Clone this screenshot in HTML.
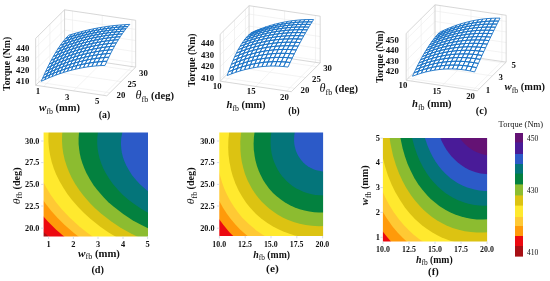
<!DOCTYPE html>
<html><head><meta charset="utf-8"><title>Figure</title>
<style>html,body{margin:0;padding:0;background:#fff}svg{display:block}text{font-family:"Liberation Serif","DejaVu Serif",serif;fill:#111}</style>
</head><body>
<svg width="550" height="281" viewBox="0 0 550 281">
<rect width="550" height="281" fill="#fff"/>
<g id="contours" shape-rendering="geometricPrecision">
<clipPath id="cp_d"><rect x="43.60" y="132.50" width="104.40" height="104.10"/></clipPath><g clip-path="url(#cp_d)" opacity="0.999">
<rect x="41.60" y="130.50" width="108.40" height="108.10" fill="#a70f14"/>
<path d="M42.8 130.5 L150.0 130.5 L150.0 238.6 L50.8 238.6 L42.8 231.2 L41.6 230.0 L41.6 130.5 L42.8 130.5Z" fill="#ec0910"/>
<path d="M42.8 130.5 L150.0 130.5 L150.0 238.6 L66.5 238.6 L56.2 229.7 L47.7 221.3 L41.6 214.5 L41.6 130.5 L42.8 130.5Z" fill="#ff9a0a"/>
<path d="M42.8 130.5 L150.0 130.5 L150.0 238.6 L81.1 238.6 L73.3 232.5 L64.7 225.0 L57.4 217.8 L51.1 210.7 L45.3 203.3 L41.6 198.1 L41.6 130.5 L42.8 130.5Z" fill="#ffc934"/>
<path d="M42.8 130.5 L150.0 130.5 L150.0 238.6 L95.5 238.6 L86.7 232.3 L79.4 226.4 L69.6 217.6 L62.0 209.4 L56.0 202.2 L50.8 194.9 L46.3 187.6 L42.4 180.3 L41.6 178.5 L41.6 130.5 L42.8 130.5Z" fill="#ffe92e"/>
<path d="M48.9 130.5 L150.0 130.5 L150.0 238.6 L118.9 238.6 L108.6 232.4 L100.0 226.5 L90.3 218.8 L84.0 213.1 L78.1 207.0 L71.8 199.7 L67.2 193.7 L63.2 187.6 L59.7 181.5 L56.1 174.2 L53.7 168.2 L51.7 162.1 L50.0 154.8 L48.9 147.5 L48.4 141.4 L48.4 135.4 L48.7 130.5 L48.9 130.5Z" fill="#dcc312"/>
<path d="M63.5 130.5 L150.0 130.5 L150.0 238.6 L141.4 238.6 L130.5 233.3 L120.6 227.7 L111.0 221.3 L101.3 213.7 L95.1 208.2 L90.3 203.4 L83.8 196.1 L79.2 190.0 L75.2 183.9 L71.8 177.9 L68.9 171.8 L66.6 165.7 L64.7 159.7 L63.3 153.6 L62.4 147.5 L62.0 141.4 L62.1 135.4 L62.5 130.5 L63.5 130.5Z" fill="#8cbc30"/>
<path d="M79.4 130.5 L150.0 130.5 L150.0 229.2 L141.5 225.1 L132.9 220.4 L123.2 214.1 L113.5 206.6 L108.4 202.2 L103.6 197.3 L97.3 190.0 L93.6 185.2 L89.7 179.1 L86.4 173.0 L84.2 168.1 L82.4 163.3 L80.9 158.4 L79.8 153.6 L79.1 148.7 L78.6 143.9 L78.6 139.0 L78.9 134.1 L79.3 130.5 L79.4 130.5Z" fill="#03813f"/>
<path d="M98.8 130.5 L150.0 130.5 L150.0 213.9 L141.5 209.1 L134.2 204.1 L128.1 199.4 L122.9 194.9 L118.1 190.0 L112.9 183.9 L109.4 179.1 L105.7 173.0 L103.2 168.2 L101.2 163.3 L99.6 158.4 L98.4 153.6 L97.6 148.7 L97.2 143.9 L97.2 139.0 L97.7 134.1 L98.3 130.5 L98.8 130.5Z" fill="#04757a"/>
<path d="M123.2 130.5 L150.0 130.5 L150.0 192.7 L145.0 188.8 L139.7 183.9 L136.3 180.3 L132.3 175.4 L129.1 170.6 L126.4 165.7 L124.3 160.9 L123.0 157.2 L121.8 152.4 L121.3 148.7 L121.0 145.1 L121.0 141.4 L121.3 137.8 L122.2 132.9 L122.8 130.5 L123.2 130.5Z" fill="#2c5ac8"/>
</g>
<clipPath id="cp_e"><rect x="219.30" y="132.40" width="103.80" height="103.50"/></clipPath><g clip-path="url(#cp_e)" opacity="0.999">
<rect x="217.30" y="130.40" width="107.80" height="107.50" fill="#ec0910"/>
<path d="M218.5 130.4 L325.1 130.4 L325.1 237.9 L235.1 237.9 L229.2 231.9 L223.1 224.6 L217.9 217.4 L217.3 216.5 L217.3 130.4 L218.5 130.4Z" fill="#ff9a0a"/>
<path d="M218.5 130.4 L325.1 130.4 L325.1 237.9 L249.9 237.9 L245.2 234.1 L240.1 229.4 L235.4 224.6 L230.4 218.6 L226.9 213.7 L223.0 207.7 L219.7 201.7 L217.3 196.7 L217.3 130.4 L218.5 130.4Z" fill="#ffc934"/>
<path d="M218.5 130.4 L325.1 130.4 L325.1 237.9 L268.0 237.9 L261.9 234.3 L256.1 230.2 L248.8 224.1 L242.1 217.4 L237.9 212.2 L233.8 206.5 L230.1 200.5 L226.9 194.4 L224.2 188.4 L222.0 182.3 L219.6 173.9 L218.1 166.6 L217.3 160.6 L217.3 134.7 L217.9 130.4 L218.5 130.4Z" fill="#ffe92e"/>
<path d="M229.4 130.9 L229.5 130.4 L325.1 130.4 L325.1 237.9 L308.7 237.9 L302.1 237.0 L294.8 235.4 L288.8 233.6 L282.7 231.3 L277.9 229.1 L273.0 226.6 L267.0 222.8 L260.9 218.3 L257.1 215.0 L253.4 211.3 L250.0 207.6 L246.3 202.9 L242.2 196.8 L238.7 190.8 L235.4 183.5 L232.8 176.3 L231.1 170.3 L229.4 161.8 L228.5 154.6 L228.2 147.3 L228.4 140.1 L229.1 132.8 L229.4 130.9Z" fill="#dcc312"/>
<path d="M241.5 130.4 L325.1 130.4 L325.1 226.0 L319.0 226.2 L311.8 225.8 L305.7 225.0 L299.7 223.7 L293.6 222.0 L287.6 219.7 L282.7 217.4 L277.9 214.7 L274.2 212.3 L269.4 208.7 L265.5 205.3 L261.8 201.7 L258.5 197.9 L255.8 194.4 L252.4 189.4 L249.8 184.8 L247.4 179.9 L245.0 173.9 L243.2 167.8 L241.8 161.8 L240.9 155.8 L240.4 149.7 L240.3 141.3 L240.9 134.0 L241.5 130.4 L241.5 130.4Z" fill="#8cbc30"/>
<path d="M254.8 130.4 L325.1 130.4 L325.1 212.5 L319.0 212.6 L314.2 212.3 L309.4 211.6 L304.5 210.6 L299.7 209.3 L294.8 207.5 L290.0 205.3 L285.1 202.6 L281.5 200.1 L276.7 196.3 L273.0 192.9 L269.0 188.4 L265.4 183.5 L263.1 179.9 L260.6 175.1 L258.5 170.3 L256.8 165.4 L255.5 160.6 L254.6 155.8 L253.8 149.7 L253.6 143.7 L253.9 137.6 L254.6 131.6 L254.8 130.4 L254.8 130.4Z" fill="#03813f"/>
<path d="M271.8 130.4 L325.1 130.4 L325.1 195.4 L320.3 195.3 L315.4 194.9 L311.8 194.3 L306.9 193.0 L303.3 191.7 L299.7 190.1 L296.0 188.2 L292.4 185.9 L288.8 183.0 L286.3 180.8 L282.2 176.3 L280.3 173.7 L277.9 169.9 L276.1 166.6 L274.0 161.8 L272.8 158.2 L271.6 153.3 L270.9 148.5 L270.6 143.7 L270.6 138.9 L271.1 134.0 L271.6 130.4 L271.8 130.4Z" fill="#04757a"/>
<path d="M296.0 130.4 L325.1 130.4 L325.1 171.5 L322.7 171.4 L320.3 171.1 L317.8 170.6 L315.4 169.9 L313.0 169.0 L310.5 167.8 L308.1 166.4 L305.2 164.2 L303.3 162.5 L301.6 160.6 L299.7 158.1 L298.2 155.8 L297.0 153.3 L296.0 150.9 L295.3 148.5 L294.7 146.1 L294.3 143.7 L294.1 141.3 L294.1 138.9 L294.3 135.2 L294.9 131.6 L295.2 130.4 L296.0 130.4Z" fill="#2c5ac8"/>
</g>
<clipPath id="cp_f"><rect x="382.90" y="138.10" width="104.20" height="103.50"/></clipPath><g clip-path="url(#cp_f)" opacity="0.999">
<rect x="380.90" y="136.10" width="108.20" height="107.50" fill="#ec0910"/>
<path d="M382.1 136.1 L489.1 136.1 L489.1 243.6 L392.6 243.6 L385.5 235.1 L380.9 228.9 L380.9 136.1 L382.1 136.1Z" fill="#ff9a0a"/>
<path d="M382.1 136.1 L489.1 136.1 L489.1 243.6 L408.9 243.6 L402.4 237.6 L397.8 232.7 L392.7 226.7 L386.7 218.2 L381.6 209.8 L380.9 208.5 L380.9 136.1 L382.1 136.1Z" fill="#ffc934"/>
<path d="M382.1 136.1 L489.1 136.1 L489.1 243.6 L425.9 243.6 L419.8 239.5 L413.7 234.7 L408.9 230.3 L404.0 225.3 L399.1 219.4 L393.8 212.2 L389.3 204.9 L385.4 197.7 L381.5 189.2 L380.9 187.8 L380.9 136.1 L382.1 136.1Z" fill="#ffe92e"/>
<path d="M382.1 136.1 L489.1 136.1 L489.1 243.6 L461.1 243.6 L455.1 242.2 L449.0 240.3 L441.7 237.4 L436.8 235.1 L432.0 232.3 L427.1 229.1 L422.2 225.4 L414.9 218.9 L409.8 213.4 L404.9 207.4 L400.0 200.1 L395.1 191.7 L391.6 184.4 L388.1 176.0 L385.0 166.3 L381.9 154.2 L380.9 148.8 L380.9 136.1 L382.1 136.1Z" fill="#dcc312"/>
<path d="M389.4 136.1 L489.1 136.1 L489.1 232.2 L483.0 232.6 L476.9 232.5 L470.9 232.1 L464.8 231.2 L458.7 229.8 L452.6 227.9 L446.5 225.4 L441.7 223.0 L436.8 220.2 L432.0 216.9 L427.1 213.1 L423.4 209.8 L419.8 206.1 L414.6 200.1 L411.0 195.3 L406.3 188.0 L402.4 180.8 L399.1 173.5 L395.9 165.1 L393.0 155.4 L390.4 143.3 L389.4 136.1 L389.4 136.1Z" fill="#8cbc30"/>
<path d="M400.4 136.1 L489.1 136.1 L489.1 219.3 L483.0 219.6 L476.9 219.4 L470.9 218.7 L466.0 217.8 L461.1 216.5 L455.1 214.4 L450.0 212.2 L445.3 209.8 L439.3 205.9 L434.4 202.1 L430.7 198.9 L427.1 195.2 L422.0 189.2 L418.4 184.4 L414.6 178.4 L410.8 171.1 L407.6 163.9 L405.0 156.6 L402.6 148.2 L400.3 137.3 L400.1 136.1 L400.4 136.1Z" fill="#03813f"/>
<path d="M412.5 136.1 L489.1 136.1 L489.1 205.6 L484.2 205.7 L479.4 205.5 L474.5 204.9 L468.4 203.7 L463.6 202.3 L457.5 199.9 L452.6 197.5 L448.9 195.3 L445.3 192.9 L441.7 190.1 L438.0 186.8 L434.4 183.1 L430.4 178.4 L426.9 173.5 L423.2 167.5 L419.5 160.3 L417.0 154.2 L414.5 147.0 L412.2 138.5 L411.7 136.1 L412.5 136.1Z" fill="#04757a"/>
<path d="M424.7 136.1 L489.1 136.1 L489.1 190.9 L484.2 190.9 L479.4 190.4 L474.5 189.6 L470.9 188.6 L467.2 187.5 L462.4 185.5 L457.5 182.9 L453.8 180.6 L450.2 177.9 L447.8 175.8 L445.3 173.5 L441.7 169.7 L438.9 166.3 L435.5 161.5 L432.6 156.6 L430.2 151.8 L427.6 145.8 L425.5 139.7 L424.4 136.1 L424.7 136.1Z" fill="#2c5ac8"/>
<path d="M440.5 136.1 L489.1 136.1 L489.1 174.3 L485.5 174.1 L480.6 173.4 L475.7 172.2 L472.1 170.9 L468.4 169.4 L464.8 167.4 L461.1 165.1 L457.5 162.2 L455.1 160.0 L451.4 156.2 L448.8 153.0 L446.3 149.4 L444.1 145.8 L441.6 140.9 L439.6 136.1 L440.5 136.1Z" fill="#491b98"/>
<path d="M458.7 136.1 L489.1 136.1 L489.1 155.6 L485.5 155.0 L481.8 154.1 L478.2 152.8 L475.7 151.7 L473.3 150.4 L470.9 148.9 L468.2 147.0 L464.8 143.9 L462.0 140.9 L459.9 138.3 L458.4 136.1 L458.7 136.1Z" fill="#641274"/>
</g>
</g>
<g id="p3d" fill="none">
<line x1="43.70" y1="86.47" x2="72.57" y2="57.80" stroke="#ebebeb" stroke-width="0.60"/>
<line x1="72.57" y1="57.80" x2="72.56" y2="10.98" stroke="#ebebeb" stroke-width="0.60"/>
<line x1="73.43" y1="90.86" x2="102.27" y2="62.19" stroke="#ebebeb" stroke-width="0.60"/>
<line x1="102.27" y1="62.19" x2="102.27" y2="15.36" stroke="#ebebeb" stroke-width="0.60"/>
<line x1="103.17" y1="95.26" x2="131.98" y2="66.57" stroke="#ebebeb" stroke-width="0.60"/>
<line x1="131.98" y1="66.57" x2="131.99" y2="19.74" stroke="#ebebeb" stroke-width="0.60"/>
<line x1="38.74" y1="82.25" x2="109.90" y2="92.77" stroke="#ebebeb" stroke-width="0.60"/>
<line x1="38.74" y1="82.25" x2="38.72" y2="35.39" stroke="#ebebeb" stroke-width="0.60"/>
<line x1="49.93" y1="71.14" x2="121.07" y2="81.65" stroke="#ebebeb" stroke-width="0.60"/>
<line x1="49.93" y1="71.14" x2="49.92" y2="24.30" stroke="#ebebeb" stroke-width="0.60"/>
<line x1="61.12" y1="60.04" x2="132.23" y2="70.53" stroke="#ebebeb" stroke-width="0.60"/>
<line x1="61.12" y1="60.04" x2="61.11" y2="13.21" stroke="#ebebeb" stroke-width="0.60"/>
<line x1="35.68" y1="81.04" x2="64.56" y2="52.39" stroke="#ebebeb" stroke-width="0.60"/>
<line x1="64.56" y1="52.39" x2="135.67" y2="62.88" stroke="#ebebeb" stroke-width="0.60"/>
<line x1="35.68" y1="69.86" x2="64.56" y2="41.22" stroke="#ebebeb" stroke-width="0.60"/>
<line x1="64.56" y1="41.22" x2="135.67" y2="51.71" stroke="#ebebeb" stroke-width="0.60"/>
<line x1="35.67" y1="58.68" x2="64.56" y2="30.05" stroke="#ebebeb" stroke-width="0.60"/>
<line x1="64.56" y1="30.05" x2="135.67" y2="40.53" stroke="#ebebeb" stroke-width="0.60"/>
<line x1="35.67" y1="47.50" x2="64.56" y2="18.87" stroke="#ebebeb" stroke-width="0.60"/>
<line x1="64.56" y1="18.87" x2="135.68" y2="29.36" stroke="#ebebeb" stroke-width="0.60"/>
<line x1="35.68" y1="85.28" x2="35.66" y2="38.42" stroke="#cdcdcd" stroke-width="0.80"/>
<line x1="35.66" y1="38.42" x2="64.55" y2="9.80" stroke="#cdcdcd" stroke-width="0.80"/>
<line x1="64.55" y1="9.80" x2="135.68" y2="20.28" stroke="#cdcdcd" stroke-width="0.80"/>
<line x1="135.68" y1="20.28" x2="135.66" y2="67.12" stroke="#cdcdcd" stroke-width="0.80"/>
<line x1="135.66" y1="67.12" x2="106.85" y2="95.80" stroke="#cdcdcd" stroke-width="0.80"/>
<line x1="106.85" y1="95.80" x2="35.68" y2="85.28" stroke="#cdcdcd" stroke-width="0.80"/>
<line x1="64.56" y1="56.62" x2="64.55" y2="9.80" stroke="#cdcdcd" stroke-width="0.80"/>
<line x1="64.56" y1="56.62" x2="35.68" y2="85.28" stroke="#cdcdcd" stroke-width="0.80"/>
<line x1="64.56" y1="56.62" x2="135.66" y2="67.12" stroke="#cdcdcd" stroke-width="0.80"/>
<path d="M65.72 38.39 L69.28 37.21 L72.10 34.21 L68.60 35.29ZM69.28 37.21 L72.89 36.09 L75.65 33.17 L72.10 34.21ZM72.89 36.09 L76.53 35.01 L79.24 32.18 L75.65 33.17ZM76.53 35.01 L80.22 33.98 L82.87 31.24 L79.24 32.18ZM80.22 33.98 L83.95 33.01 L86.54 30.35 L82.87 31.24ZM83.95 33.01 L87.73 32.10 L90.26 29.50 L86.54 30.35ZM87.73 32.10 L91.55 31.24 L94.02 28.71 L90.26 29.50ZM91.55 31.24 L95.41 30.44 L97.82 27.98 L94.02 28.71ZM95.41 30.44 L99.32 29.71 L101.67 27.31 L97.82 27.98ZM99.32 29.71 L103.27 29.04 L105.56 26.69 L101.67 27.31ZM103.27 29.04 L107.27 28.44 L109.49 26.14 L105.56 26.69ZM107.27 28.44 L111.31 27.91 L113.47 25.65 L109.49 26.14ZM111.31 27.91 L115.39 27.44 L117.49 25.23 L113.47 25.65ZM115.39 27.44 L119.51 27.06 L121.55 24.88 L117.49 25.23ZM119.51 27.06 L123.68 26.74 L125.65 24.60 L121.55 24.88ZM123.68 26.74 L127.89 26.51 L129.80 24.39 L125.65 24.60ZM62.98 41.73 L66.58 40.46 L69.28 37.21 L65.72 38.39ZM66.58 40.46 L70.24 39.23 L72.89 36.09 L69.28 37.21ZM70.24 39.23 L73.93 38.06 L76.53 35.01 L72.89 36.09ZM73.93 38.06 L77.67 36.95 L80.22 33.98 L76.53 35.01ZM77.67 36.95 L81.45 35.90 L83.95 33.01 L80.22 33.98ZM81.45 35.90 L85.28 34.91 L87.73 32.10 L83.95 33.01ZM85.28 34.91 L89.15 33.98 L91.55 31.24 L87.73 32.10ZM89.15 33.98 L93.07 33.11 L95.41 30.44 L91.55 31.24ZM93.07 33.11 L97.03 32.31 L99.32 29.71 L95.41 30.44ZM97.03 32.31 L101.03 31.59 L103.27 29.04 L99.32 29.71ZM101.03 31.59 L105.08 30.93 L107.27 28.44 L103.27 29.04ZM105.08 30.93 L109.17 30.35 L111.31 27.91 L107.27 28.44ZM109.17 30.35 L113.31 29.84 L115.39 27.44 L111.31 27.91ZM113.31 29.84 L117.49 29.41 L119.51 27.06 L115.39 27.44ZM117.49 29.41 L121.72 29.06 L123.68 26.74 L119.51 27.06ZM121.72 29.06 L125.98 28.80 L127.89 26.51 L123.68 26.74ZM60.36 45.26 L64.01 43.89 L66.58 40.46 L62.98 41.73ZM64.01 43.89 L67.70 42.57 L70.24 39.23 L66.58 40.46ZM67.70 42.57 L71.43 41.31 L73.93 38.06 L70.24 39.23ZM71.43 41.31 L75.21 40.11 L77.67 36.95 L73.93 38.06ZM75.21 40.11 L79.04 38.97 L81.45 35.90 L77.67 36.95ZM79.04 38.97 L82.91 37.90 L85.28 34.91 L81.45 35.90ZM82.91 37.90 L86.82 36.89 L89.15 33.98 L85.28 34.91ZM86.82 36.89 L90.78 35.96 L93.07 33.11 L89.15 33.98ZM90.78 35.96 L94.79 35.10 L97.03 32.31 L93.07 33.11ZM94.79 35.10 L98.84 34.31 L101.03 31.59 L97.03 32.31ZM98.84 34.31 L102.93 33.60 L105.08 30.93 L101.03 31.59ZM102.93 33.60 L107.07 32.96 L109.17 30.35 L105.08 30.93ZM107.07 32.96 L111.26 32.41 L113.31 29.84 L109.17 30.35ZM111.26 32.41 L115.48 31.94 L117.49 29.41 L113.31 29.84ZM115.48 31.94 L119.76 31.56 L121.72 29.06 L117.49 29.41ZM119.76 31.56 L124.08 31.26 L125.98 28.80 L121.72 29.06ZM57.87 48.94 L61.55 47.47 L64.01 43.89 L60.36 45.26ZM61.55 47.47 L65.27 46.05 L67.70 42.57 L64.01 43.89ZM65.27 46.05 L69.04 44.70 L71.43 41.31 L67.70 42.57ZM69.04 44.70 L72.85 43.42 L75.21 40.11 L71.43 41.31ZM72.85 43.42 L76.71 42.20 L79.04 38.97 L75.21 40.11ZM76.71 42.20 L80.61 41.05 L82.91 37.90 L79.04 38.97ZM80.61 41.05 L84.56 39.97 L86.82 36.89 L82.91 37.90ZM84.56 39.97 L88.56 38.97 L90.78 35.96 L86.82 36.89ZM88.56 38.97 L92.60 38.04 L94.79 35.10 L90.78 35.96ZM92.60 38.04 L96.69 37.20 L98.84 34.31 L94.79 35.10ZM96.69 37.20 L100.82 36.43 L102.93 33.60 L98.84 34.31ZM100.82 36.43 L105.00 35.75 L107.07 32.96 L102.93 33.60ZM105.00 35.75 L109.22 35.15 L111.26 32.41 L107.07 32.96ZM109.22 35.15 L113.49 34.64 L115.48 31.94 L111.26 32.41ZM113.49 34.64 L117.81 34.22 L119.76 31.56 L115.48 31.94ZM117.81 34.22 L122.17 33.90 L124.08 31.26 L119.76 31.56ZM55.52 52.71 L59.21 51.14 L61.55 47.47 L57.87 48.94ZM59.21 51.14 L62.96 49.64 L65.27 46.05 L61.55 47.47ZM62.96 49.64 L66.75 48.21 L69.04 44.70 L65.27 46.05ZM66.75 48.21 L70.58 46.85 L72.85 43.42 L69.04 44.70ZM70.58 46.85 L74.47 45.55 L76.71 42.20 L72.85 43.42ZM74.47 45.55 L78.40 44.33 L80.61 41.05 L76.71 42.20ZM78.40 44.33 L82.37 43.19 L84.56 39.97 L80.61 41.05ZM82.37 43.19 L86.40 42.12 L88.56 38.97 L84.56 39.97ZM86.40 42.12 L90.47 41.14 L92.60 38.04 L88.56 38.97ZM90.47 41.14 L94.58 40.23 L96.69 37.20 L92.60 38.04ZM94.58 40.23 L98.75 39.42 L100.82 36.43 L96.69 37.20ZM98.75 39.42 L102.96 38.69 L105.00 35.75 L100.82 36.43ZM102.96 38.69 L107.21 38.05 L109.22 35.15 L105.00 35.75ZM107.21 38.05 L111.52 37.51 L113.49 34.64 L109.22 35.15ZM111.52 37.51 L115.87 37.06 L117.81 34.22 L113.49 34.64ZM115.87 37.06 L120.26 36.70 L122.17 33.90 L117.81 34.22ZM53.29 56.52 L57.00 54.88 L59.21 51.14 L55.52 52.71ZM57.00 54.88 L60.75 53.31 L62.96 49.64 L59.21 51.14ZM60.75 53.31 L64.56 51.80 L66.75 48.21 L62.96 49.64ZM64.56 51.80 L68.41 50.36 L70.58 46.85 L66.75 48.21ZM68.41 50.36 L72.31 49.00 L74.47 45.55 L70.58 46.85ZM72.31 49.00 L76.26 47.72 L78.40 44.33 L74.47 45.55ZM76.26 47.72 L80.25 46.52 L82.37 43.19 L78.40 44.33ZM80.25 46.52 L84.30 45.39 L86.40 42.12 L82.37 43.19ZM84.30 45.39 L88.39 44.36 L90.47 41.14 L86.40 42.12ZM88.39 44.36 L92.53 43.41 L94.58 40.23 L90.47 41.14ZM92.53 43.41 L96.71 42.55 L98.75 39.42 L94.58 40.23ZM96.71 42.55 L100.95 41.78 L102.96 38.69 L98.75 39.42ZM100.95 41.78 L105.23 41.11 L107.21 38.05 L102.96 38.69ZM105.23 41.11 L109.55 40.53 L111.52 37.51 L107.21 38.05ZM109.55 40.53 L113.93 40.06 L115.87 37.06 L111.52 37.51ZM113.93 40.06 L118.35 39.69 L120.26 36.70 L115.87 37.06ZM51.19 60.35 L54.90 58.64 L57.00 54.88 L53.29 56.52ZM54.90 58.64 L58.66 57.00 L60.75 53.31 L57.00 54.88ZM58.66 57.00 L62.47 55.43 L64.56 51.80 L60.75 53.31ZM62.47 55.43 L66.33 53.94 L68.41 50.36 L64.56 51.80ZM66.33 53.94 L70.24 52.53 L72.31 49.00 L68.41 50.36ZM70.24 52.53 L74.20 51.19 L76.26 47.72 L72.31 49.00ZM74.20 51.19 L78.20 49.94 L80.25 46.52 L76.26 47.72ZM78.20 49.94 L82.26 48.77 L84.30 45.39 L80.25 46.52ZM82.26 48.77 L86.36 47.69 L88.39 44.36 L84.30 45.39ZM86.36 47.69 L90.51 46.70 L92.53 43.41 L88.39 44.36ZM90.51 46.70 L94.71 45.81 L96.71 42.55 L92.53 43.41ZM94.71 45.81 L98.96 45.01 L100.95 41.78 L96.71 42.55ZM98.96 45.01 L103.26 44.31 L105.23 41.11 L100.95 41.78ZM103.26 44.31 L107.61 43.72 L109.55 40.53 L105.23 41.11ZM107.61 43.72 L112.00 43.23 L113.93 40.06 L109.55 40.53ZM112.00 43.23 L116.45 42.84 L118.35 39.69 L113.93 40.06ZM49.22 64.13 L52.92 62.38 L54.90 58.64 L51.19 60.35ZM52.92 62.38 L56.68 60.69 L58.66 57.00 L54.90 58.64ZM56.68 60.69 L60.49 59.08 L62.47 55.43 L58.66 57.00ZM60.49 59.08 L64.35 57.55 L66.33 53.94 L62.47 55.43ZM64.35 57.55 L68.26 56.09 L70.24 52.53 L66.33 53.94ZM68.26 56.09 L72.21 54.72 L74.20 51.19 L70.24 52.53ZM72.21 54.72 L76.22 53.43 L78.20 49.94 L74.20 51.19ZM76.22 53.43 L80.28 52.23 L82.26 48.77 L78.20 49.94ZM80.28 52.23 L84.39 51.12 L86.36 47.69 L82.26 48.77ZM84.39 51.12 L88.55 50.11 L90.51 46.70 L86.36 47.69ZM88.55 50.11 L92.75 49.19 L94.71 45.81 L90.51 46.70ZM92.75 49.19 L97.01 48.38 L98.96 45.01 L94.71 45.81ZM97.01 48.38 L101.32 47.66 L103.26 44.31 L98.96 45.01ZM101.32 47.66 L105.68 47.05 L107.61 43.72 L103.26 44.31ZM105.68 47.05 L110.08 46.56 L112.00 43.23 L107.61 43.72ZM110.08 46.56 L114.54 46.17 L116.45 42.84 L112.00 43.23ZM47.37 67.84 L51.07 66.06 L52.92 62.38 L49.22 64.13ZM51.07 66.06 L54.81 64.35 L56.68 60.69 L52.92 62.38ZM54.81 64.35 L58.61 62.72 L60.49 59.08 L56.68 60.69ZM58.61 62.72 L62.46 61.16 L64.35 57.55 L60.49 59.08ZM62.46 61.16 L66.36 59.68 L68.26 56.09 L64.35 57.55ZM66.36 59.68 L70.31 58.29 L72.21 54.72 L68.26 56.09ZM70.31 58.29 L74.31 56.98 L76.22 53.43 L72.21 54.72ZM74.31 56.98 L78.36 55.76 L80.28 52.23 L76.22 53.43ZM78.36 55.76 L82.47 54.64 L84.39 51.12 L80.28 52.23ZM82.47 54.64 L86.62 53.61 L88.55 50.11 L84.39 51.12ZM86.62 53.61 L90.83 52.69 L92.75 49.19 L88.55 50.11ZM90.83 52.69 L95.09 51.86 L97.01 48.38 L92.75 49.19ZM95.09 51.86 L99.40 51.15 L101.32 47.66 L97.01 48.38ZM99.40 51.15 L103.76 50.54 L105.68 47.05 L101.32 47.66ZM103.76 50.54 L108.17 50.05 L110.08 46.56 L105.68 47.05ZM108.17 50.05 L112.63 49.67 L114.54 46.17 L110.08 46.56ZM45.66 71.44 L49.33 69.66 L51.07 66.06 L47.37 67.84ZM49.33 69.66 L53.06 67.95 L54.81 64.35 L51.07 66.06ZM53.06 67.95 L56.83 66.31 L58.61 62.72 L54.81 64.35ZM56.83 66.31 L60.66 64.75 L62.46 61.16 L58.61 62.72ZM60.66 64.75 L64.55 63.27 L66.36 59.68 L62.46 61.16ZM64.55 63.27 L68.48 61.87 L70.31 58.29 L66.36 59.68ZM68.48 61.87 L72.47 60.56 L74.31 56.98 L70.31 58.29ZM72.47 60.56 L76.51 59.34 L78.36 55.76 L74.31 56.98ZM76.51 59.34 L80.60 58.22 L82.47 54.64 L78.36 55.76ZM80.60 58.22 L84.75 57.20 L86.62 53.61 L82.47 54.64ZM84.75 57.20 L88.95 56.28 L90.83 52.69 L86.62 53.61ZM88.95 56.28 L93.20 55.46 L95.09 51.86 L90.83 52.69ZM93.20 55.46 L97.50 54.76 L99.40 51.15 L95.09 51.86ZM97.50 54.76 L101.86 54.17 L103.76 50.54 L99.40 51.15ZM101.86 54.17 L106.26 53.70 L108.17 50.05 L103.76 50.54ZM106.26 53.70 L110.72 53.35 L112.63 49.67 L108.17 50.05ZM44.08 74.90 L47.72 73.14 L49.33 69.66 L45.66 71.44ZM47.72 73.14 L51.41 71.45 L53.06 67.95 L49.33 69.66ZM51.41 71.45 L55.16 69.83 L56.83 66.31 L53.06 67.95ZM55.16 69.83 L58.97 68.28 L60.66 64.75 L56.83 66.31ZM58.97 68.28 L62.82 66.82 L64.55 63.27 L60.66 64.75ZM62.82 66.82 L66.73 65.44 L68.48 61.87 L64.55 63.27ZM66.73 65.44 L70.70 64.15 L72.47 60.56 L68.48 61.87ZM70.70 64.15 L74.72 62.96 L76.51 59.34 L72.47 60.56ZM74.72 62.96 L78.79 61.86 L80.60 58.22 L76.51 59.34ZM78.79 61.86 L82.92 60.86 L84.75 57.20 L80.60 58.22ZM82.92 60.86 L87.10 59.96 L88.95 56.28 L84.75 57.20ZM87.10 59.96 L91.34 59.17 L93.20 55.46 L88.95 56.28ZM91.34 59.17 L95.62 58.50 L97.50 54.76 L93.20 55.46ZM95.62 58.50 L99.97 57.94 L101.86 54.17 L97.50 54.76ZM99.97 57.94 L104.36 57.51 L106.26 53.70 L101.86 54.17ZM104.36 57.51 L108.82 57.20 L110.72 53.35 L106.26 53.70ZM42.62 78.19 L46.23 76.48 L47.72 73.14 L44.08 74.90ZM46.23 76.48 L49.88 74.83 L51.41 71.45 L47.72 73.14ZM49.88 74.83 L53.59 73.25 L55.16 69.83 L51.41 71.45ZM53.59 73.25 L57.36 71.75 L58.97 68.28 L55.16 69.83ZM57.36 71.75 L61.18 70.33 L62.82 66.82 L58.97 68.28ZM61.18 70.33 L65.06 68.99 L66.73 65.44 L62.82 66.82ZM65.06 68.99 L69.00 67.74 L70.70 64.15 L66.73 65.44ZM69.00 67.74 L72.99 66.59 L74.72 62.96 L70.70 64.15ZM72.99 66.59 L77.03 65.53 L78.79 61.86 L74.72 62.96ZM77.03 65.53 L81.13 64.57 L82.92 60.86 L78.79 61.86ZM81.13 64.57 L85.29 63.72 L87.10 59.96 L82.92 60.86ZM85.29 63.72 L89.50 62.98 L91.34 59.17 L87.10 59.96ZM89.50 62.98 L93.77 62.36 L95.62 58.50 L91.34 59.17ZM93.77 62.36 L98.09 61.85 L99.97 57.94 L95.62 58.50ZM98.09 61.85 L102.47 61.47 L104.36 57.51 L99.97 57.94ZM102.47 61.47 L106.91 61.22 L108.82 57.20 L104.36 57.51ZM41.30 81.28 L44.85 79.64 L46.23 76.48 L42.62 78.19ZM44.85 79.64 L48.46 78.06 L49.88 74.83 L46.23 76.48ZM48.46 78.06 L52.13 76.55 L53.59 73.25 L49.88 74.83ZM52.13 76.55 L55.85 75.12 L57.36 71.75 L53.59 73.25ZM55.85 75.12 L59.63 73.77 L61.18 70.33 L57.36 71.75ZM59.63 73.77 L63.47 72.50 L65.06 68.99 L61.18 70.33ZM63.47 72.50 L67.37 71.31 L69.00 67.74 L65.06 68.99ZM67.37 71.31 L71.32 70.22 L72.99 66.59 L69.00 67.74ZM71.32 70.22 L75.33 69.23 L77.03 65.53 L72.99 66.59ZM75.33 69.23 L79.40 68.34 L81.13 64.57 L77.03 65.53ZM79.40 68.34 L83.52 67.55 L85.29 63.72 L81.13 64.57ZM83.52 67.55 L87.70 66.88 L89.50 62.98 L85.29 63.72ZM87.70 66.88 L91.94 66.33 L93.77 62.36 L89.50 62.98ZM91.94 66.33 L96.24 65.90 L98.09 61.85 L93.77 62.36ZM96.24 65.90 L100.59 65.59 L102.47 61.47 L98.09 61.85ZM100.59 65.59 L105.00 65.42 L106.91 61.22 L102.47 61.47Z" fill="#fff" stroke="#1a73c6" stroke-width="0.9" stroke-linejoin="round"/>
<line x1="224.75" y1="81.86" x2="253.62" y2="53.19" stroke="#ebebeb" stroke-width="0.60"/>
<line x1="253.62" y1="53.19" x2="253.62" y2="6.37" stroke="#ebebeb" stroke-width="0.60"/>
<line x1="255.69" y1="86.43" x2="284.54" y2="57.76" stroke="#ebebeb" stroke-width="0.60"/>
<line x1="284.54" y1="57.76" x2="284.54" y2="10.93" stroke="#ebebeb" stroke-width="0.60"/>
<line x1="286.64" y1="91.01" x2="315.46" y2="62.32" stroke="#ebebeb" stroke-width="0.60"/>
<line x1="315.46" y1="62.32" x2="315.47" y2="15.49" stroke="#ebebeb" stroke-width="0.60"/>
<line x1="223.58" y1="77.81" x2="294.74" y2="88.33" stroke="#ebebeb" stroke-width="0.60"/>
<line x1="223.58" y1="77.81" x2="223.56" y2="30.95" stroke="#ebebeb" stroke-width="0.60"/>
<line x1="234.51" y1="66.97" x2="305.64" y2="77.47" stroke="#ebebeb" stroke-width="0.60"/>
<line x1="234.51" y1="66.97" x2="234.49" y2="20.12" stroke="#ebebeb" stroke-width="0.60"/>
<line x1="245.42" y1="56.13" x2="316.54" y2="66.63" stroke="#ebebeb" stroke-width="0.60"/>
<line x1="245.42" y1="56.13" x2="245.42" y2="9.31" stroke="#ebebeb" stroke-width="0.60"/>
<line x1="220.18" y1="78.75" x2="249.06" y2="50.09" stroke="#ebebeb" stroke-width="0.60"/>
<line x1="249.06" y1="50.09" x2="320.17" y2="60.58" stroke="#ebebeb" stroke-width="0.60"/>
<line x1="220.18" y1="66.73" x2="249.06" y2="38.08" stroke="#ebebeb" stroke-width="0.60"/>
<line x1="249.06" y1="38.08" x2="320.17" y2="48.57" stroke="#ebebeb" stroke-width="0.60"/>
<line x1="220.17" y1="54.71" x2="249.06" y2="26.07" stroke="#ebebeb" stroke-width="0.60"/>
<line x1="249.06" y1="26.07" x2="320.17" y2="36.56" stroke="#ebebeb" stroke-width="0.60"/>
<line x1="220.17" y1="42.68" x2="249.06" y2="14.06" stroke="#ebebeb" stroke-width="0.60"/>
<line x1="249.06" y1="14.06" x2="320.18" y2="24.54" stroke="#ebebeb" stroke-width="0.60"/>
<line x1="220.18" y1="81.18" x2="220.16" y2="34.32" stroke="#cdcdcd" stroke-width="0.80"/>
<line x1="220.16" y1="34.32" x2="249.05" y2="5.70" stroke="#cdcdcd" stroke-width="0.80"/>
<line x1="249.05" y1="5.70" x2="320.18" y2="16.18" stroke="#cdcdcd" stroke-width="0.80"/>
<line x1="320.18" y1="16.18" x2="320.16" y2="63.02" stroke="#cdcdcd" stroke-width="0.80"/>
<line x1="320.16" y1="63.02" x2="291.35" y2="91.70" stroke="#cdcdcd" stroke-width="0.80"/>
<line x1="291.35" y1="91.70" x2="220.18" y2="81.18" stroke="#cdcdcd" stroke-width="0.80"/>
<line x1="249.06" y1="52.52" x2="249.05" y2="5.70" stroke="#cdcdcd" stroke-width="0.80"/>
<line x1="249.06" y1="52.52" x2="220.18" y2="81.18" stroke="#cdcdcd" stroke-width="0.80"/>
<line x1="249.06" y1="52.52" x2="320.16" y2="63.02" stroke="#cdcdcd" stroke-width="0.80"/>
<path d="M250.64 33.34 L255.03 31.64 L257.33 30.03 L253.00 31.83ZM255.03 31.64 L259.42 30.07 L261.66 28.38 L257.33 30.03ZM259.42 30.07 L263.81 28.65 L265.99 26.87 L261.66 28.38ZM263.81 28.65 L268.20 27.36 L270.31 25.51 L265.99 26.87ZM268.20 27.36 L272.59 26.20 L274.64 24.28 L270.31 25.51ZM272.59 26.20 L276.97 25.19 L278.97 23.19 L274.64 24.28ZM276.97 25.19 L281.36 24.30 L283.30 22.24 L278.97 23.19ZM281.36 24.30 L285.75 23.56 L287.63 21.44 L283.30 22.24ZM285.75 23.56 L290.14 22.95 L291.96 20.77 L287.63 21.44ZM290.14 22.95 L294.53 22.48 L296.29 20.25 L291.96 20.77ZM294.53 22.48 L298.91 22.14 L300.61 19.86 L296.29 20.25ZM298.91 22.14 L303.30 21.93 L304.94 19.62 L300.61 19.86ZM303.30 21.93 L307.69 21.86 L309.27 19.52 L304.94 19.62ZM307.69 21.86 L312.08 21.93 L313.60 19.56 L309.27 19.52ZM248.37 35.28 L252.81 33.62 L255.03 31.64 L250.64 33.34ZM252.81 33.62 L257.25 32.10 L259.42 30.07 L255.03 31.64ZM257.25 32.10 L261.68 30.72 L263.81 28.65 L259.42 30.07ZM261.68 30.72 L266.12 29.48 L268.20 27.36 L263.81 28.65ZM266.12 29.48 L270.56 28.37 L272.59 26.20 L268.20 27.36ZM270.56 28.37 L275.00 27.40 L276.97 25.19 L272.59 26.20ZM275.00 27.40 L279.44 26.56 L281.36 24.30 L276.97 25.19ZM279.44 26.56 L283.88 25.86 L285.75 23.56 L281.36 24.30ZM283.88 25.86 L288.32 25.29 L290.14 22.95 L285.75 23.56ZM288.32 25.29 L292.76 24.85 L294.53 22.48 L290.14 22.95ZM292.76 24.85 L297.19 24.55 L298.91 22.14 L294.53 22.48ZM297.19 24.55 L301.63 24.38 L303.30 21.93 L298.91 22.14ZM301.63 24.38 L306.07 24.34 L307.69 21.86 L303.30 21.93ZM306.07 24.34 L310.51 24.43 L312.08 21.93 L307.69 21.86ZM246.17 37.59 L250.65 35.95 L252.81 33.62 L248.37 35.28ZM250.65 35.95 L255.13 34.44 L257.25 32.10 L252.81 33.62ZM255.13 34.44 L259.61 33.08 L261.68 30.72 L257.25 32.10ZM259.61 33.08 L264.09 31.86 L266.12 29.48 L261.68 30.72ZM264.09 31.86 L268.57 30.77 L270.56 28.37 L266.12 29.48ZM268.57 30.77 L273.05 29.82 L275.00 27.40 L270.56 28.37ZM273.05 29.82 L277.53 29.01 L279.44 26.56 L275.00 27.40ZM277.53 29.01 L282.01 28.33 L283.88 25.86 L279.44 26.56ZM282.01 28.33 L286.49 27.79 L288.32 25.29 L283.88 25.86ZM286.49 27.79 L290.97 27.38 L292.76 24.85 L288.32 25.29ZM290.97 27.38 L295.45 27.11 L297.19 24.55 L292.76 24.85ZM295.45 27.11 L299.93 26.97 L301.63 24.38 L297.19 24.55ZM299.93 26.97 L304.41 26.96 L306.07 24.34 L301.63 24.38ZM304.41 26.96 L308.89 27.08 L310.51 24.43 L306.07 24.34ZM244.05 40.23 L248.56 38.57 L250.65 35.95 L246.17 37.59ZM248.56 38.57 L253.08 37.06 L255.13 34.44 L250.65 35.95ZM253.08 37.06 L257.59 35.69 L259.61 33.08 L255.13 34.44ZM257.59 35.69 L262.10 34.47 L264.09 31.86 L259.61 33.08ZM262.10 34.47 L266.62 33.39 L268.57 30.77 L264.09 31.86ZM266.62 33.39 L271.13 32.45 L273.05 29.82 L268.57 30.77ZM271.13 32.45 L275.64 31.64 L277.53 29.01 L273.05 29.82ZM275.64 31.64 L280.16 30.98 L282.01 28.33 L277.53 29.01ZM280.16 30.98 L284.67 30.46 L286.49 27.79 L282.01 28.33ZM284.67 30.46 L289.18 30.07 L290.97 27.38 L286.49 27.79ZM289.18 30.07 L293.69 29.82 L295.45 27.11 L290.97 27.38ZM293.69 29.82 L298.20 29.70 L299.93 26.97 L295.45 27.11ZM298.20 29.70 L302.71 29.72 L304.41 26.96 L299.93 26.97ZM302.71 29.72 L307.23 29.87 L308.89 27.08 L304.41 26.96ZM242.01 43.15 L246.55 41.46 L248.56 38.57 L244.05 40.23ZM246.55 41.46 L251.08 39.92 L253.08 37.06 L248.56 38.57ZM251.08 39.92 L255.62 38.54 L257.59 35.69 L253.08 37.06ZM255.62 38.54 L260.16 37.30 L262.10 34.47 L257.59 35.69ZM260.16 37.30 L264.69 36.21 L266.62 33.39 L262.10 34.47ZM264.69 36.21 L269.23 35.26 L271.13 32.45 L266.62 33.39ZM269.23 35.26 L273.77 34.46 L275.64 31.64 L271.13 32.45ZM273.77 34.46 L278.30 33.80 L280.16 30.98 L275.64 31.64ZM278.30 33.80 L282.84 33.29 L284.67 30.46 L280.16 30.98ZM282.84 33.29 L287.37 32.91 L289.18 30.07 L284.67 30.46ZM287.37 32.91 L291.91 32.68 L293.69 29.82 L289.18 30.07ZM291.91 32.68 L296.45 32.59 L298.20 29.70 L293.69 29.82ZM296.45 32.59 L300.98 32.63 L302.71 29.72 L298.20 29.70ZM300.98 32.63 L305.52 32.81 L307.23 29.87 L302.71 29.72ZM240.05 46.31 L244.60 44.58 L246.55 41.46 L242.01 43.15ZM244.60 44.58 L249.15 43.01 L251.08 39.92 L246.55 41.46ZM249.15 43.01 L253.70 41.59 L255.62 38.54 L251.08 39.92ZM253.70 41.59 L258.25 40.32 L260.16 37.30 L255.62 38.54ZM258.25 40.32 L262.81 39.22 L264.69 36.21 L260.16 37.30ZM262.81 39.22 L267.36 38.26 L269.23 35.26 L264.69 36.21ZM267.36 38.26 L271.91 37.45 L273.77 34.46 L269.23 35.26ZM271.91 37.45 L276.46 36.79 L278.30 33.80 L273.77 34.46ZM276.46 36.79 L281.01 36.28 L282.84 33.29 L278.30 33.80ZM281.01 36.28 L285.56 35.92 L287.37 32.91 L282.84 33.29ZM285.56 35.92 L290.11 35.70 L291.91 32.68 L287.37 32.91ZM290.11 35.70 L294.66 35.63 L296.45 32.59 L291.91 32.68ZM294.66 35.63 L299.21 35.69 L300.98 32.63 L296.45 32.59ZM299.21 35.69 L303.76 35.90 L305.52 32.81 L300.98 32.63ZM238.16 49.67 L242.72 47.89 L244.60 44.58 L240.05 46.31ZM242.72 47.89 L247.28 46.28 L249.15 43.01 L244.60 44.58ZM247.28 46.28 L251.84 44.82 L253.70 41.59 L249.15 43.01ZM251.84 44.82 L256.39 43.53 L258.25 40.32 L253.70 41.59ZM256.39 43.53 L260.95 42.40 L262.81 39.22 L258.25 40.32ZM260.95 42.40 L265.51 41.43 L267.36 38.26 L262.81 39.22ZM265.51 41.43 L270.06 40.61 L271.91 37.45 L267.36 38.26ZM270.06 40.61 L274.62 39.95 L276.46 36.79 L271.91 37.45ZM274.62 39.95 L279.18 39.44 L281.01 36.28 L276.46 36.79ZM279.18 39.44 L283.73 39.09 L285.56 35.92 L281.01 36.28ZM283.73 39.09 L288.29 38.88 L290.11 35.70 L285.56 35.92ZM288.29 38.88 L292.84 38.83 L294.66 35.63 L290.11 35.70ZM292.84 38.83 L297.40 38.92 L299.21 35.69 L294.66 35.63ZM297.40 38.92 L301.95 39.16 L303.76 35.90 L299.21 35.69ZM236.36 53.18 L240.92 51.36 L242.72 47.89 L238.16 49.67ZM240.92 51.36 L245.47 49.71 L247.28 46.28 L242.72 47.89ZM245.47 49.71 L250.02 48.23 L251.84 44.82 L247.28 46.28ZM250.02 48.23 L254.58 46.91 L256.39 43.53 L251.84 44.82ZM254.58 46.91 L259.13 45.76 L260.95 42.40 L256.39 43.53ZM259.13 45.76 L263.68 44.77 L265.51 41.43 L260.95 42.40ZM263.68 44.77 L268.24 43.94 L270.06 40.61 L265.51 41.43ZM268.24 43.94 L272.79 43.28 L274.62 39.95 L270.06 40.61ZM272.79 43.28 L277.34 42.77 L279.18 39.44 L274.62 39.95ZM277.34 42.77 L281.89 42.42 L283.73 39.09 L279.18 39.44ZM281.89 42.42 L286.45 42.23 L288.29 38.88 L283.73 39.09ZM286.45 42.23 L291.00 42.20 L292.84 38.83 L288.29 38.88ZM291.00 42.20 L295.55 42.31 L297.40 38.92 L292.84 38.83ZM295.55 42.31 L300.10 42.58 L301.95 39.16 L297.40 38.92ZM234.64 56.82 L239.18 54.96 L240.92 51.36 L236.36 53.18ZM239.18 54.96 L243.72 53.28 L245.47 49.71 L240.92 51.36ZM243.72 53.28 L248.26 51.77 L250.02 48.23 L245.47 49.71ZM248.26 51.77 L252.80 50.43 L254.58 46.91 L250.02 48.23ZM252.80 50.43 L257.34 49.26 L259.13 45.76 L254.58 46.91ZM257.34 49.26 L261.88 48.26 L263.68 44.77 L259.13 45.76ZM261.88 48.26 L266.42 47.43 L268.24 43.94 L263.68 44.77ZM266.42 47.43 L270.96 46.76 L272.79 43.28 L268.24 43.94ZM270.96 46.76 L275.50 46.26 L277.34 42.77 L272.79 43.28ZM275.50 46.26 L280.04 45.93 L281.89 42.42 L277.34 42.77ZM280.04 45.93 L284.58 45.75 L286.45 42.23 L281.89 42.42ZM284.58 45.75 L289.12 45.74 L291.00 42.20 L286.45 42.23ZM289.12 45.74 L293.66 45.88 L295.55 42.31 L291.00 42.20ZM293.66 45.88 L298.20 46.18 L300.10 42.58 L295.55 42.31ZM232.99 60.53 L237.51 58.66 L239.18 54.96 L234.64 56.82ZM237.51 58.66 L242.03 56.96 L243.72 53.28 L239.18 54.96ZM242.03 56.96 L246.55 55.43 L248.26 51.77 L243.72 53.28ZM246.55 55.43 L251.07 54.08 L252.80 50.43 L248.26 51.77ZM251.07 54.08 L255.59 52.91 L257.34 49.26 L252.80 50.43ZM255.59 52.91 L260.11 51.91 L261.88 48.26 L257.34 49.26ZM260.11 51.91 L264.63 51.08 L266.42 47.43 L261.88 48.26ZM264.63 51.08 L269.15 50.42 L270.96 46.76 L266.42 47.43ZM269.15 50.42 L273.67 49.92 L275.50 46.26 L270.96 46.76ZM273.67 49.92 L278.18 49.60 L280.04 45.93 L275.50 46.26ZM278.18 49.60 L282.70 49.44 L284.58 45.75 L280.04 45.93ZM282.70 49.44 L287.22 49.45 L289.12 45.74 L284.58 45.75ZM287.22 49.45 L291.74 49.63 L293.66 45.88 L289.12 45.74ZM291.74 49.63 L296.25 49.97 L298.20 46.18 L293.66 45.88ZM231.43 64.29 L235.91 62.42 L237.51 58.66 L232.99 60.53ZM235.91 62.42 L240.40 60.72 L242.03 56.96 L237.51 58.66ZM240.40 60.72 L244.89 59.20 L246.55 55.43 L242.03 56.96ZM244.89 59.20 L249.38 57.85 L251.07 54.08 L246.55 55.43ZM249.38 57.85 L253.87 56.69 L255.59 52.91 L251.07 54.08ZM253.87 56.69 L258.36 55.69 L260.11 51.91 L255.59 52.91ZM258.36 55.69 L262.85 54.87 L264.63 51.08 L260.11 51.91ZM262.85 54.87 L267.34 54.23 L269.15 50.42 L264.63 51.08ZM267.34 54.23 L271.82 53.75 L273.67 49.92 L269.15 50.42ZM271.82 53.75 L276.31 53.45 L278.18 49.60 L273.67 49.92ZM276.31 53.45 L280.80 53.32 L282.70 49.44 L278.18 49.60ZM280.80 53.32 L285.29 53.36 L287.22 49.45 L282.70 49.44ZM285.29 53.36 L289.77 53.56 L291.74 49.63 L287.22 49.45ZM289.77 53.56 L294.26 53.94 L296.25 49.97 L291.74 49.63ZM229.94 68.07 L234.39 66.22 L235.91 62.42 L231.43 64.29ZM234.39 66.22 L238.84 64.54 L240.40 60.72 L235.91 62.42ZM238.84 64.54 L243.29 63.05 L244.89 59.20 L240.40 60.72ZM243.29 63.05 L247.74 61.72 L249.38 57.85 L244.89 59.20ZM247.74 61.72 L252.18 60.58 L253.87 56.69 L249.38 57.85ZM252.18 60.58 L256.63 59.61 L258.36 55.69 L253.87 56.69ZM256.63 59.61 L261.08 58.82 L262.85 54.87 L258.36 55.69ZM261.08 58.82 L265.53 58.19 L267.34 54.23 L262.85 54.87ZM265.53 58.19 L269.98 57.75 L271.82 53.75 L267.34 54.23ZM269.98 57.75 L274.43 57.48 L276.31 53.45 L271.82 53.75ZM274.43 57.48 L278.88 57.38 L280.80 53.32 L276.31 53.45ZM278.88 57.38 L283.33 57.45 L285.29 53.36 L280.80 53.32ZM283.33 57.45 L287.77 57.69 L289.77 53.56 L285.29 53.36ZM287.77 57.69 L292.22 58.11 L294.26 53.94 L289.77 53.56ZM228.53 71.83 L232.93 70.03 L234.39 66.22 L229.94 68.07ZM232.93 70.03 L237.33 68.41 L238.84 64.54 L234.39 66.22ZM237.33 68.41 L241.73 66.96 L243.29 63.05 L238.84 64.54ZM241.73 66.96 L246.13 65.68 L247.74 61.72 L243.29 63.05ZM246.13 65.68 L250.53 64.58 L252.18 60.58 L247.74 61.72ZM250.53 64.58 L254.93 63.65 L256.63 59.61 L252.18 60.58ZM254.93 63.65 L259.33 62.90 L261.08 58.82 L256.63 59.61ZM259.33 62.90 L263.73 62.32 L265.53 58.19 L261.08 58.82ZM263.73 62.32 L268.13 61.91 L269.98 57.75 L265.53 58.19ZM268.13 61.91 L272.53 61.68 L274.43 57.48 L269.98 57.75ZM272.53 61.68 L276.93 61.62 L278.88 57.38 L274.43 57.48ZM276.93 61.62 L281.33 61.73 L283.33 57.45 L278.88 57.38ZM281.33 61.73 L285.73 62.02 L287.77 57.69 L283.33 57.45ZM285.73 62.02 L290.13 62.48 L292.22 58.11 L287.77 57.69ZM227.20 75.54 L231.54 73.83 L232.93 70.03 L228.53 71.83ZM231.54 73.83 L235.89 72.28 L237.33 68.41 L232.93 70.03ZM235.89 72.28 L240.23 70.91 L241.73 66.96 L237.33 68.41ZM240.23 70.91 L244.57 69.71 L246.13 65.68 L241.73 66.96ZM244.57 69.71 L248.91 68.67 L250.53 64.58 L246.13 65.68ZM248.91 68.67 L253.26 67.81 L254.93 63.65 L250.53 64.58ZM253.26 67.81 L257.60 67.12 L259.33 62.90 L254.93 63.65ZM257.60 67.12 L261.94 66.60 L263.73 62.32 L259.33 62.90ZM261.94 66.60 L266.29 66.25 L268.13 61.91 L263.73 62.32ZM266.29 66.25 L270.63 66.07 L272.53 61.68 L268.13 61.91ZM270.63 66.07 L274.97 66.06 L276.93 61.62 L272.53 61.68ZM274.97 66.06 L279.31 66.22 L281.33 61.73 L276.93 61.62ZM279.31 66.22 L283.66 66.55 L285.73 62.02 L281.33 61.73ZM283.66 66.55 L288.00 67.06 L290.13 62.48 L285.73 62.02Z" fill="#fff" stroke="#1a73c6" stroke-width="0.9" stroke-linejoin="round"/>
<line x1="411.32" y1="81.04" x2="440.20" y2="52.38" stroke="#ebebeb" stroke-width="0.60"/>
<line x1="440.20" y1="52.38" x2="440.19" y2="5.56" stroke="#ebebeb" stroke-width="0.60"/>
<line x1="442.17" y1="85.60" x2="471.02" y2="56.93" stroke="#ebebeb" stroke-width="0.60"/>
<line x1="471.02" y1="56.93" x2="471.02" y2="10.10" stroke="#ebebeb" stroke-width="0.60"/>
<line x1="473.04" y1="90.16" x2="501.85" y2="61.48" stroke="#ebebeb" stroke-width="0.60"/>
<line x1="501.85" y1="61.48" x2="501.87" y2="14.65" stroke="#ebebeb" stroke-width="0.60"/>
<line x1="408.22" y1="78.25" x2="479.39" y2="88.77" stroke="#ebebeb" stroke-width="0.60"/>
<line x1="408.22" y1="78.25" x2="408.21" y2="31.39" stroke="#ebebeb" stroke-width="0.60"/>
<line x1="421.17" y1="65.41" x2="492.31" y2="75.91" stroke="#ebebeb" stroke-width="0.60"/>
<line x1="421.17" y1="65.41" x2="421.16" y2="18.56" stroke="#ebebeb" stroke-width="0.60"/>
<line x1="434.11" y1="52.57" x2="505.21" y2="63.07" stroke="#ebebeb" stroke-width="0.60"/>
<line x1="434.11" y1="52.57" x2="434.10" y2="5.75" stroke="#ebebeb" stroke-width="0.60"/>
<line x1="406.18" y1="71.19" x2="435.06" y2="42.54" stroke="#ebebeb" stroke-width="0.60"/>
<line x1="435.06" y1="42.54" x2="506.17" y2="53.03" stroke="#ebebeb" stroke-width="0.60"/>
<line x1="406.17" y1="60.66" x2="435.06" y2="32.02" stroke="#ebebeb" stroke-width="0.60"/>
<line x1="435.06" y1="32.02" x2="506.17" y2="42.51" stroke="#ebebeb" stroke-width="0.60"/>
<line x1="406.17" y1="50.12" x2="435.06" y2="21.49" stroke="#ebebeb" stroke-width="0.60"/>
<line x1="435.06" y1="21.49" x2="506.18" y2="31.98" stroke="#ebebeb" stroke-width="0.60"/>
<line x1="406.17" y1="39.59" x2="435.06" y2="10.97" stroke="#ebebeb" stroke-width="0.60"/>
<line x1="435.06" y1="10.97" x2="506.18" y2="21.45" stroke="#ebebeb" stroke-width="0.60"/>
<line x1="406.18" y1="80.28" x2="406.16" y2="33.42" stroke="#cdcdcd" stroke-width="0.80"/>
<line x1="406.16" y1="33.42" x2="435.05" y2="4.80" stroke="#cdcdcd" stroke-width="0.80"/>
<line x1="435.05" y1="4.80" x2="506.18" y2="15.28" stroke="#cdcdcd" stroke-width="0.80"/>
<line x1="506.18" y1="15.28" x2="506.16" y2="62.12" stroke="#cdcdcd" stroke-width="0.80"/>
<line x1="506.16" y1="62.12" x2="477.35" y2="90.80" stroke="#cdcdcd" stroke-width="0.80"/>
<line x1="477.35" y1="90.80" x2="406.18" y2="80.28" stroke="#cdcdcd" stroke-width="0.80"/>
<line x1="435.06" y1="51.62" x2="435.05" y2="4.80" stroke="#cdcdcd" stroke-width="0.80"/>
<line x1="435.06" y1="51.62" x2="406.18" y2="80.28" stroke="#cdcdcd" stroke-width="0.80"/>
<line x1="435.06" y1="51.62" x2="506.16" y2="62.12" stroke="#cdcdcd" stroke-width="0.80"/>
<path d="M437.45 34.54 L441.81 32.57 L443.82 30.28 L439.50 32.31ZM441.81 32.57 L446.17 30.75 L448.14 28.41 L443.82 30.28ZM446.17 30.75 L450.54 29.09 L452.46 26.70 L448.14 28.41ZM450.54 29.09 L454.90 27.59 L456.79 25.14 L452.46 26.70ZM454.90 27.59 L459.26 26.24 L461.11 23.74 L456.79 25.14ZM459.26 26.24 L463.63 25.05 L465.43 22.50 L461.11 23.74ZM463.63 25.05 L467.99 24.01 L469.75 21.41 L465.43 22.50ZM467.99 24.01 L472.35 23.13 L474.07 20.47 L469.75 21.41ZM472.35 23.13 L476.71 22.40 L478.39 19.69 L474.07 20.47ZM476.71 22.40 L481.07 21.83 L482.71 19.07 L478.39 19.69ZM481.07 21.83 L485.43 21.41 L487.04 18.61 L482.71 19.07ZM485.43 21.41 L489.79 21.15 L491.36 18.30 L487.04 18.61ZM489.79 21.15 L494.15 21.04 L495.68 18.14 L491.36 18.30ZM494.15 21.04 L498.51 21.09 L500.00 18.14 L495.68 18.14ZM435.43 36.92 L439.83 34.98 L441.81 32.57 L437.45 34.54ZM439.83 34.98 L444.23 33.21 L446.17 30.75 L441.81 32.57ZM444.23 33.21 L448.63 31.59 L450.54 29.09 L446.17 30.75ZM448.63 31.59 L453.03 30.13 L454.90 27.59 L450.54 29.09ZM453.03 30.13 L457.43 28.83 L459.26 26.24 L454.90 27.59ZM457.43 28.83 L461.83 27.69 L463.63 25.05 L459.26 26.24ZM461.83 27.69 L466.23 26.70 L467.99 24.01 L463.63 25.05ZM466.23 26.70 L470.62 25.86 L472.35 23.13 L467.99 24.01ZM470.62 25.86 L475.02 25.18 L476.71 22.40 L472.35 23.13ZM475.02 25.18 L479.42 24.66 L481.07 21.83 L476.71 22.40ZM479.42 24.66 L483.81 24.29 L485.43 21.41 L481.07 21.83ZM483.81 24.29 L488.21 24.08 L489.79 21.15 L485.43 21.41ZM488.21 24.08 L492.60 24.02 L494.15 21.04 L489.79 21.15ZM492.60 24.02 L496.99 24.12 L498.51 21.09 L494.15 21.04ZM433.45 39.42 L437.89 37.52 L439.83 34.98 L435.43 36.92ZM437.89 37.52 L442.32 35.78 L444.23 33.21 L439.83 34.98ZM442.32 35.78 L446.75 34.20 L448.63 31.59 L444.23 33.21ZM446.75 34.20 L451.18 32.78 L453.03 30.13 L448.63 31.59ZM451.18 32.78 L455.61 31.52 L457.43 28.83 L453.03 30.13ZM455.61 31.52 L460.04 30.41 L461.83 27.69 L457.43 28.83ZM460.04 30.41 L464.47 29.47 L466.23 26.70 L461.83 27.69ZM464.47 29.47 L468.90 28.68 L470.62 25.86 L466.23 26.70ZM468.90 28.68 L473.32 28.05 L475.02 25.18 L470.62 25.86ZM473.32 28.05 L477.75 27.57 L479.42 24.66 L475.02 25.18ZM477.75 27.57 L482.18 27.26 L483.81 24.29 L479.42 24.66ZM482.18 27.26 L486.60 27.09 L488.21 24.08 L483.81 24.29ZM486.60 27.09 L491.02 27.08 L492.60 24.02 L488.21 24.08ZM491.02 27.08 L495.45 27.23 L496.99 24.12 L492.60 24.02ZM431.51 42.04 L435.97 40.16 L437.89 37.52 L433.45 39.42ZM435.97 40.16 L440.43 38.45 L442.32 35.78 L437.89 37.52ZM440.43 38.45 L444.89 36.90 L446.75 34.20 L442.32 35.78ZM444.89 36.90 L449.34 35.51 L451.18 32.78 L446.75 34.20ZM449.34 35.51 L453.80 34.29 L455.61 31.52 L451.18 32.78ZM453.80 34.29 L458.26 33.23 L460.04 30.41 L455.61 31.52ZM458.26 33.23 L462.71 32.32 L464.47 29.47 L460.04 30.41ZM462.71 32.32 L467.17 31.58 L468.90 28.68 L464.47 29.47ZM467.17 31.58 L471.62 30.99 L473.32 28.05 L468.90 28.68ZM471.62 30.99 L476.07 30.57 L477.75 27.57 L473.32 28.05ZM476.07 30.57 L480.52 30.30 L482.18 27.26 L477.75 27.57ZM480.52 30.30 L484.97 30.19 L486.60 27.09 L482.18 27.26ZM484.97 30.19 L489.42 30.23 L491.02 27.08 L486.60 27.09ZM489.42 30.23 L493.87 30.43 L495.45 27.23 L491.02 27.08ZM429.60 44.76 L434.08 42.91 L435.97 40.16 L431.51 42.04ZM434.08 42.91 L438.56 41.22 L440.43 38.45 L435.97 40.16ZM438.56 41.22 L443.05 39.70 L444.89 36.90 L440.43 38.45ZM443.05 39.70 L447.53 38.34 L449.34 35.51 L444.89 36.90ZM447.53 38.34 L452.00 37.15 L453.80 34.29 L449.34 35.51ZM452.00 37.15 L456.48 36.12 L458.26 33.23 L453.80 34.29ZM456.48 36.12 L460.96 35.26 L462.71 32.32 L458.26 33.23ZM460.96 35.26 L465.43 34.56 L467.17 31.58 L462.71 32.32ZM465.43 34.56 L469.91 34.02 L471.62 30.99 L467.17 31.58ZM469.91 34.02 L474.38 33.64 L476.07 30.57 L471.62 30.99ZM474.38 33.64 L478.86 33.42 L480.52 30.30 L476.07 30.57ZM478.86 33.42 L483.33 33.36 L484.97 30.19 L480.52 30.30ZM483.33 33.36 L487.80 33.47 L489.42 30.23 L484.97 30.19ZM487.80 33.47 L492.27 33.73 L493.87 30.43 L489.42 30.23ZM427.73 47.59 L432.23 45.75 L434.08 42.91 L429.60 44.76ZM432.23 45.75 L436.73 44.09 L438.56 41.22 L434.08 42.91ZM436.73 44.09 L441.23 42.59 L443.05 39.70 L438.56 41.22ZM441.23 42.59 L445.72 41.26 L447.53 38.34 L443.05 39.70ZM445.72 41.26 L450.22 40.10 L452.00 37.15 L447.53 38.34ZM450.22 40.10 L454.71 39.11 L456.48 36.12 L452.00 37.15ZM454.71 39.11 L459.21 38.28 L460.96 35.26 L456.48 36.12ZM459.21 38.28 L463.70 37.62 L465.43 34.56 L460.96 35.26ZM463.70 37.62 L468.19 37.13 L469.91 34.02 L465.43 34.56ZM468.19 37.13 L472.68 36.80 L474.38 33.64 L469.91 34.02ZM472.68 36.80 L477.17 36.63 L478.86 33.42 L474.38 33.64ZM477.17 36.63 L481.66 36.63 L483.33 33.36 L478.86 33.42ZM481.66 36.63 L486.15 36.79 L487.80 33.47 L483.33 33.36ZM486.15 36.79 L490.63 37.11 L492.27 33.73 L487.80 33.47ZM425.89 50.51 L430.40 48.69 L432.23 45.75 L427.73 47.59ZM430.40 48.69 L434.92 47.04 L436.73 44.09 L432.23 45.75ZM434.92 47.04 L439.43 45.56 L441.23 42.59 L436.73 44.09ZM439.43 45.56 L443.94 44.26 L445.72 41.26 L441.23 42.59ZM443.94 44.26 L448.44 43.13 L450.22 40.10 L445.72 41.26ZM448.44 43.13 L452.95 42.17 L454.71 39.11 L450.22 40.10ZM452.95 42.17 L457.46 41.38 L459.21 38.28 L454.71 39.11ZM457.46 41.38 L461.96 40.77 L463.70 37.62 L459.21 38.28ZM461.96 40.77 L466.47 40.32 L468.19 37.13 L463.70 37.62ZM466.47 40.32 L470.97 40.04 L472.68 36.80 L468.19 37.13ZM470.97 40.04 L475.47 39.92 L477.17 36.63 L472.68 36.80ZM475.47 39.92 L479.97 39.98 L481.66 36.63 L477.17 36.63ZM479.97 39.98 L484.47 40.20 L486.15 36.79 L481.66 36.63ZM484.47 40.20 L488.97 40.58 L490.63 37.11 L486.15 36.79ZM424.09 53.52 L428.61 51.71 L430.40 48.69 L425.89 50.51ZM428.61 51.71 L433.13 50.07 L434.92 47.04 L430.40 48.69ZM433.13 50.07 L437.65 48.62 L439.43 45.56 L434.92 47.04ZM437.65 48.62 L442.17 47.34 L443.94 44.26 L439.43 45.56ZM442.17 47.34 L446.68 46.24 L448.44 43.13 L443.94 44.26ZM446.68 46.24 L451.20 45.32 L452.95 42.17 L448.44 43.13ZM451.20 45.32 L455.71 44.57 L457.46 41.38 L452.95 42.17ZM455.71 44.57 L460.22 43.99 L461.96 40.77 L457.46 41.38ZM460.22 43.99 L464.74 43.59 L466.47 40.32 L461.96 40.77ZM464.74 43.59 L469.25 43.36 L470.97 40.04 L466.47 40.32ZM469.25 43.36 L473.75 43.30 L475.47 39.92 L470.97 40.04ZM473.75 43.30 L478.26 43.42 L479.97 39.98 L475.47 39.92ZM478.26 43.42 L482.77 43.70 L484.47 40.20 L479.97 39.98ZM482.77 43.70 L487.28 44.15 L488.97 40.58 L484.47 40.20ZM422.33 56.60 L426.85 54.80 L428.61 51.71 L424.09 53.52ZM426.85 54.80 L431.37 53.19 L433.13 50.07 L428.61 51.71ZM431.37 53.19 L435.89 51.75 L437.65 48.62 L433.13 50.07ZM435.89 51.75 L440.41 50.51 L442.17 47.34 L437.65 48.62ZM440.41 50.51 L444.93 49.44 L446.68 46.24 L442.17 47.34ZM444.93 49.44 L449.45 48.55 L451.20 45.32 L446.68 46.24ZM449.45 48.55 L453.97 47.84 L455.71 44.57 L451.20 45.32ZM453.97 47.84 L458.48 47.31 L460.22 43.99 L455.71 44.57ZM458.48 47.31 L463.00 46.95 L464.74 43.59 L460.22 43.99ZM463.00 46.95 L467.51 46.77 L469.25 43.36 L464.74 43.59ZM467.51 46.77 L472.02 46.77 L473.75 43.30 L469.25 43.36ZM472.02 46.77 L476.53 46.95 L478.26 43.42 L473.75 43.30ZM476.53 46.95 L481.04 47.30 L482.77 43.70 L478.26 43.42ZM481.04 47.30 L485.55 47.82 L487.28 44.15 L482.77 43.70ZM420.60 59.74 L425.12 57.96 L426.85 54.80 L422.33 56.60ZM425.12 57.96 L429.64 56.37 L431.37 53.19 L426.85 54.80ZM429.64 56.37 L434.16 54.96 L435.89 51.75 L431.37 53.19ZM434.16 54.96 L438.68 53.74 L440.41 50.51 L435.89 51.75ZM438.68 53.74 L443.19 52.71 L444.93 49.44 L440.41 50.51ZM443.19 52.71 L447.71 51.85 L449.45 48.55 L444.93 49.44ZM447.71 51.85 L452.23 51.19 L453.97 47.84 L449.45 48.55ZM452.23 51.19 L456.74 50.70 L458.48 47.31 L453.97 47.84ZM456.74 50.70 L461.25 50.40 L463.00 46.95 L458.48 47.31ZM461.25 50.40 L465.76 50.27 L467.51 46.77 L463.00 46.95ZM465.76 50.27 L470.27 50.33 L472.02 46.77 L467.51 46.77ZM470.27 50.33 L474.78 50.57 L476.53 46.95 L472.02 46.77ZM474.78 50.57 L479.29 50.99 L481.04 47.30 L476.53 46.95ZM479.29 50.99 L483.80 51.58 L485.55 47.82 L481.04 47.30ZM418.91 62.94 L423.42 61.19 L425.12 57.96 L420.60 59.74ZM423.42 61.19 L427.93 59.62 L429.64 56.37 L425.12 57.96ZM427.93 59.62 L432.45 58.24 L434.16 54.96 L429.64 56.37ZM432.45 58.24 L436.96 57.05 L438.68 53.74 L434.16 54.96ZM436.96 57.05 L441.47 56.05 L443.19 52.71 L438.68 53.74ZM441.47 56.05 L445.98 55.24 L447.71 51.85 L443.19 52.71ZM445.98 55.24 L450.49 54.62 L452.23 51.19 L447.71 51.85ZM450.49 54.62 L454.99 54.18 L456.74 50.70 L452.23 51.19ZM454.99 54.18 L459.50 53.93 L461.25 50.40 L456.74 50.70ZM459.50 53.93 L464.01 53.86 L465.76 50.27 L461.25 50.40ZM464.01 53.86 L468.51 53.98 L470.27 50.33 L465.76 50.27ZM468.51 53.98 L473.01 54.29 L474.78 50.57 L470.27 50.33ZM473.01 54.29 L477.52 54.77 L479.29 50.99 L474.78 50.57ZM477.52 54.77 L482.02 55.45 L483.80 51.58 L479.29 50.99ZM417.25 66.20 L421.75 64.47 L423.42 61.19 L418.91 62.94ZM421.75 64.47 L426.25 62.93 L427.93 59.62 L423.42 61.19ZM426.25 62.93 L430.75 61.58 L432.45 58.24 L427.93 59.62ZM430.75 61.58 L435.25 60.43 L436.96 57.05 L432.45 58.24ZM435.25 60.43 L439.75 59.47 L441.47 56.05 L436.96 57.05ZM439.75 59.47 L444.25 58.70 L445.98 55.24 L441.47 56.05ZM444.25 58.70 L448.75 58.13 L450.49 54.62 L445.98 55.24ZM448.75 58.13 L453.24 57.74 L454.99 54.18 L450.49 54.62ZM453.24 57.74 L457.74 57.55 L459.50 53.93 L454.99 54.18ZM457.74 57.55 L462.24 57.54 L464.01 53.86 L459.50 53.93ZM462.24 57.54 L466.73 57.73 L468.51 53.98 L464.01 53.86ZM466.73 57.73 L471.22 58.10 L473.01 54.29 L468.51 53.98ZM471.22 58.10 L475.72 58.66 L477.52 54.77 L473.01 54.29ZM475.72 58.66 L480.21 59.41 L482.02 55.45 L477.52 54.77ZM415.63 69.50 L420.12 67.80 L421.75 64.47 L417.25 66.20ZM420.12 67.80 L424.60 66.29 L426.25 62.93 L421.75 64.47ZM424.60 66.29 L429.08 64.99 L430.75 61.58 L426.25 62.93ZM429.08 64.99 L433.57 63.88 L435.25 60.43 L430.75 61.58ZM433.57 63.88 L438.05 62.96 L439.75 59.47 L435.25 60.43ZM438.05 62.96 L442.53 62.24 L444.25 58.70 L439.75 59.47ZM442.53 62.24 L447.01 61.72 L448.75 58.13 L444.25 58.70ZM447.01 61.72 L451.49 61.39 L453.24 57.74 L448.75 58.13ZM451.49 61.39 L455.97 61.25 L457.74 57.55 L453.24 57.74ZM455.97 61.25 L460.45 61.31 L462.24 57.54 L457.74 57.55ZM460.45 61.31 L464.93 61.56 L466.73 57.73 L462.24 57.54ZM464.93 61.56 L469.41 62.01 L471.22 58.10 L466.73 57.73ZM469.41 62.01 L473.89 62.65 L475.72 58.66 L471.22 58.10ZM473.89 62.65 L478.37 63.48 L480.21 59.41 L475.72 58.66ZM414.05 72.83 L418.51 71.17 L420.12 67.80 L415.63 69.50ZM418.51 71.17 L422.97 69.71 L424.60 66.29 L420.12 67.80ZM422.97 69.71 L427.44 68.45 L429.08 64.99 L424.60 66.29ZM427.44 68.45 L431.90 67.39 L433.57 63.88 L429.08 64.99ZM431.90 67.39 L436.36 66.52 L438.05 62.96 L433.57 63.88ZM436.36 66.52 L440.82 65.86 L442.53 62.24 L438.05 62.96ZM440.82 65.86 L445.28 65.39 L447.01 61.72 L442.53 62.24ZM445.28 65.39 L449.74 65.12 L451.49 61.39 L447.01 61.72ZM449.74 65.12 L454.20 65.05 L455.97 61.25 L451.49 61.39ZM454.20 65.05 L458.66 65.17 L460.45 61.31 L455.97 61.25ZM458.66 65.17 L463.12 65.50 L464.93 61.56 L460.45 61.31ZM463.12 65.50 L467.58 66.02 L469.41 62.01 L464.93 61.56ZM467.58 66.02 L472.04 66.74 L473.89 62.65 L469.41 62.01ZM472.04 66.74 L476.50 67.65 L478.37 63.48 L473.89 62.65ZM412.50 76.19 L416.94 74.58 L418.51 71.17 L414.05 72.83ZM416.94 74.58 L421.37 73.17 L422.97 69.71 L418.51 71.17ZM421.37 73.17 L425.81 71.97 L427.44 68.45 L422.97 69.71ZM425.81 71.97 L430.24 70.96 L431.90 67.39 L427.44 68.45ZM430.24 70.96 L434.68 70.15 L436.36 66.52 L431.90 67.39ZM434.68 70.15 L439.11 69.55 L440.82 65.86 L436.36 66.52ZM439.11 69.55 L443.55 69.14 L445.28 65.39 L440.82 65.86ZM443.55 69.14 L447.99 68.94 L449.74 65.12 L445.28 65.39ZM447.99 68.94 L452.42 68.93 L454.20 65.05 L449.74 65.12ZM452.42 68.93 L456.86 69.13 L458.66 65.17 L454.20 65.05ZM456.86 69.13 L461.29 69.53 L463.12 65.50 L458.66 65.17ZM461.29 69.53 L465.73 70.13 L467.58 66.02 L463.12 65.50ZM465.73 70.13 L470.16 70.93 L472.04 66.74 L467.58 66.02ZM470.16 70.93 L474.60 71.93 L476.50 67.65 L472.04 66.74Z" fill="#fff" stroke="#1a73c6" stroke-width="0.9" stroke-linejoin="round"/>
</g>
<g id="colorbar">
<rect x="515" y="133" width="8" height="123.60" fill="#a70f14"/>
<rect x="515" y="133" width="8" height="113.00" fill="#ec0910"/>
<rect x="515" y="133" width="8" height="103.00" fill="#ff9a0a"/>
<rect x="515" y="133" width="8" height="93.00" fill="#ffc934"/>
<rect x="515" y="133" width="8" height="84.00" fill="#ffe92e"/>
<rect x="515" y="133" width="8" height="72.60" fill="#dcc312"/>
<rect x="515" y="133" width="8" height="62.40" fill="#8cbc30"/>
<rect x="515" y="133" width="8" height="51.40" fill="#03813f"/>
<rect x="515" y="133" width="8" height="40.60" fill="#04757a"/>
<rect x="515" y="133" width="8" height="31.00" fill="#2c5ac8"/>
<rect x="515" y="133" width="8" height="21.00" fill="#491b98"/>
<rect x="515" y="133" width="8" height="9.40" fill="#641274"/>
</g>
<g id="ticks">
<line x1="41.20" y1="141.00" x2="43.60" y2="141.00" stroke="#c9d0df" stroke-width="0.8"/>
<line x1="216.90" y1="141.00" x2="219.30" y2="141.00" stroke="#c9d0df" stroke-width="0.8"/>
<line x1="41.20" y1="162.60" x2="43.60" y2="162.60" stroke="#c9d0df" stroke-width="0.8"/>
<line x1="216.90" y1="162.60" x2="219.30" y2="162.60" stroke="#c9d0df" stroke-width="0.8"/>
<line x1="41.20" y1="184.40" x2="43.60" y2="184.40" stroke="#c9d0df" stroke-width="0.8"/>
<line x1="216.90" y1="184.40" x2="219.30" y2="184.40" stroke="#c9d0df" stroke-width="0.8"/>
<line x1="41.20" y1="206.00" x2="43.60" y2="206.00" stroke="#c9d0df" stroke-width="0.8"/>
<line x1="216.90" y1="206.00" x2="219.30" y2="206.00" stroke="#c9d0df" stroke-width="0.8"/>
<line x1="41.20" y1="228.20" x2="43.60" y2="228.20" stroke="#c9d0df" stroke-width="0.8"/>
<line x1="216.90" y1="228.20" x2="219.30" y2="228.20" stroke="#c9d0df" stroke-width="0.8"/>
<line x1="48.60" y1="236.60" x2="48.60" y2="239.00" stroke="#c9d0df" stroke-width="0.8"/>
<line x1="73.40" y1="236.60" x2="73.40" y2="239.00" stroke="#c9d0df" stroke-width="0.8"/>
<line x1="98.00" y1="236.60" x2="98.00" y2="239.00" stroke="#c9d0df" stroke-width="0.8"/>
<line x1="123.00" y1="236.60" x2="123.00" y2="239.00" stroke="#c9d0df" stroke-width="0.8"/>
<line x1="147.60" y1="236.60" x2="147.60" y2="239.00" stroke="#c9d0df" stroke-width="0.8"/>
<line x1="219.40" y1="235.90" x2="219.40" y2="238.30" stroke="#c9d0df" stroke-width="0.8"/>
<line x1="245.20" y1="235.90" x2="245.20" y2="238.30" stroke="#c9d0df" stroke-width="0.8"/>
<line x1="271.00" y1="235.90" x2="271.00" y2="238.30" stroke="#c9d0df" stroke-width="0.8"/>
<line x1="296.80" y1="235.90" x2="296.80" y2="238.30" stroke="#c9d0df" stroke-width="0.8"/>
<line x1="322.60" y1="235.90" x2="322.60" y2="238.30" stroke="#c9d0df" stroke-width="0.8"/>
<line x1="383.00" y1="241.60" x2="383.00" y2="244.00" stroke="#c9d0df" stroke-width="0.8"/>
<line x1="409.00" y1="241.60" x2="409.00" y2="244.00" stroke="#c9d0df" stroke-width="0.8"/>
<line x1="435.00" y1="241.60" x2="435.00" y2="244.00" stroke="#c9d0df" stroke-width="0.8"/>
<line x1="461.00" y1="241.60" x2="461.00" y2="244.00" stroke="#c9d0df" stroke-width="0.8"/>
<line x1="487.00" y1="241.60" x2="487.00" y2="244.00" stroke="#c9d0df" stroke-width="0.8"/>
<line x1="380.50" y1="138.20" x2="382.90" y2="138.20" stroke="#c9d0df" stroke-width="0.8"/>
<line x1="380.50" y1="162.60" x2="382.90" y2="162.60" stroke="#c9d0df" stroke-width="0.8"/>
<line x1="380.50" y1="187.60" x2="382.90" y2="187.60" stroke="#c9d0df" stroke-width="0.8"/>
<line x1="380.50" y1="212.40" x2="382.90" y2="212.40" stroke="#c9d0df" stroke-width="0.8"/>
<line x1="380.50" y1="237.30" x2="382.90" y2="237.30" stroke="#c9d0df" stroke-width="0.8"/>
</g>
<g id="labels">
<text transform="translate(22.70 47.80) scale(1.100 1)" x="-6.00" y="2.70"><tspan font-size="8.00" font-weight="bold">440</tspan></text>
<text transform="translate(22.70 59.10) scale(1.100 1)" x="-6.00" y="2.70"><tspan font-size="8.00" font-weight="bold">430</tspan></text>
<text transform="translate(22.70 69.90) scale(1.100 1)" x="-6.00" y="2.70"><tspan font-size="8.00" font-weight="bold">420</tspan></text>
<text transform="translate(22.70 81.00) scale(1.100 1)" x="-6.00" y="2.70"><tspan font-size="8.00" font-weight="bold">410</tspan></text>
<text transform="translate(38.00 91.60) scale(1.100 1)" x="-2.00" y="2.70"><tspan font-size="8.00" font-weight="bold">1</tspan></text>
<text transform="translate(67.20 96.80) scale(1.100 1)" x="-2.00" y="2.70"><tspan font-size="8.00" font-weight="bold">3</tspan></text>
<text transform="translate(97.30 101.20) scale(1.100 1)" x="-2.00" y="2.70"><tspan font-size="8.00" font-weight="bold">5</tspan></text>
<text transform="translate(143.50 72.80) scale(1.100 1)" x="-4.00" y="2.70"><tspan font-size="8.00" font-weight="bold">30</tspan></text>
<text transform="translate(132.00 83.80) scale(1.100 1)" x="-4.00" y="2.70"><tspan font-size="8.00" font-weight="bold">25</tspan></text>
<text transform="translate(121.00 95.00) scale(1.100 1)" x="-4.00" y="2.70"><tspan font-size="8.00" font-weight="bold">20</tspan></text>
<text transform="translate(207.50 43.00) scale(1.100 1)" x="-6.00" y="2.70"><tspan font-size="8.00" font-weight="bold">440</tspan></text>
<text transform="translate(207.50 55.00) scale(1.100 1)" x="-6.00" y="2.70"><tspan font-size="8.00" font-weight="bold">430</tspan></text>
<text transform="translate(207.50 66.70) scale(1.100 1)" x="-6.00" y="2.70"><tspan font-size="8.00" font-weight="bold">420</tspan></text>
<text transform="translate(207.50 78.70) scale(1.100 1)" x="-6.00" y="2.70"><tspan font-size="8.00" font-weight="bold">410</tspan></text>
<text transform="translate(217.20 86.20) scale(1.100 1)" x="-4.00" y="2.70"><tspan font-size="8.00" font-weight="bold">10</tspan></text>
<text transform="translate(251.20 91.60) scale(1.100 1)" x="-4.00" y="2.70"><tspan font-size="8.00" font-weight="bold">15</tspan></text>
<text transform="translate(284.40 97.00) scale(1.100 1)" x="-4.00" y="2.70"><tspan font-size="8.00" font-weight="bold">20</tspan></text>
<text transform="translate(327.60 68.60) scale(1.100 1)" x="-4.00" y="2.70"><tspan font-size="8.00" font-weight="bold">30</tspan></text>
<text transform="translate(316.40 79.10) scale(1.100 1)" x="-4.00" y="2.70"><tspan font-size="8.00" font-weight="bold">25</tspan></text>
<text transform="translate(305.00 90.00) scale(1.100 1)" x="-4.00" y="2.70"><tspan font-size="8.00" font-weight="bold">20</tspan></text>
<text transform="translate(392.30 39.90) scale(1.100 1)" x="-6.00" y="2.70"><tspan font-size="8.00" font-weight="bold">450</tspan></text>
<text transform="translate(392.30 50.10) scale(1.100 1)" x="-6.00" y="2.70"><tspan font-size="8.00" font-weight="bold">440</tspan></text>
<text transform="translate(392.30 60.90) scale(1.100 1)" x="-6.00" y="2.70"><tspan font-size="8.00" font-weight="bold">430</tspan></text>
<text transform="translate(392.30 71.20) scale(1.100 1)" x="-6.00" y="2.70"><tspan font-size="8.00" font-weight="bold">420</tspan></text>
<text transform="translate(403.00 85.60) scale(1.100 1)" x="-4.00" y="2.70"><tspan font-size="8.00" font-weight="bold">10</tspan></text>
<text transform="translate(436.80 91.00) scale(1.100 1)" x="-4.00" y="2.70"><tspan font-size="8.00" font-weight="bold">15</tspan></text>
<text transform="translate(470.60 96.40) scale(1.100 1)" x="-4.00" y="2.70"><tspan font-size="8.00" font-weight="bold">20</tspan></text>
<text transform="translate(513.70 65.10) scale(1.100 1)" x="-2.00" y="2.70"><tspan font-size="8.00" font-weight="bold">5</tspan></text>
<text transform="translate(500.70 77.40) scale(1.100 1)" x="-2.00" y="2.70"><tspan font-size="8.00" font-weight="bold">3</tspan></text>
<text transform="translate(488.00 90.00) scale(1.100 1)" x="-2.00" y="2.70"><tspan font-size="8.00" font-weight="bold">1</tspan></text>
<text transform="translate(7.40 63.80) rotate(-90) scale(1.036 1)" x="-26.26" y="2.57"><tspan font-size="9.50" font-weight="bold">Torque (Nm)</tspan></text>
<text transform="translate(192.30 60.30) rotate(-90) scale(1.021 1)" x="-26.26" y="2.57"><tspan font-size="9.50" font-weight="bold">Torque (Nm)</tspan></text>
<text transform="translate(380.00 56.80) rotate(-90) scale(1.002 1)" x="-26.26" y="2.57"><tspan font-size="9.50" font-weight="bold">Torque (Nm)</tspan></text>
<text transform="translate(59.50 108.00) scale(1.047 1)" x="-19.58" y="2.70"><tspan font-size="10.50" font-weight="bold" font-style="italic">w</tspan><tspan font-size="7.60" dy="2.80">fb</tspan><tspan font-size="10.00" font-weight="bold" dy="-2.80"> (mm)</tspan></text>
<text transform="translate(154.80 96.00) scale(1.062 1)" x="-18.07" y="2.70"><tspan font-size="11.50" font-style="italic">θ</tspan><tspan font-size="7.60" dy="2.80">fb</tspan><tspan font-size="10.00" font-weight="bold" dy="-2.80"> (deg)</tspan></text>
<text transform="translate(246.00 105.00) scale(1.036 1)" x="-18.91" y="2.70"><tspan font-size="10.20" font-weight="bold" font-style="italic">h</tspan><tspan font-size="7.60" dy="2.80">fb</tspan><tspan font-size="10.00" font-weight="bold" dy="-2.80"> (mm)</tspan></text>
<text transform="translate(338.80 89.60) scale(1.062 1)" x="-18.07" y="2.70"><tspan font-size="11.50" font-style="italic">θ</tspan><tspan font-size="7.60" dy="2.80">fb</tspan><tspan font-size="10.00" font-weight="bold" dy="-2.80"> (deg)</tspan></text>
<text transform="translate(431.80 104.00) scale(1.047 1)" x="-18.91" y="2.70"><tspan font-size="10.20" font-weight="bold" font-style="italic">h</tspan><tspan font-size="7.60" dy="2.80">fb</tspan><tspan font-size="10.00" font-weight="bold" dy="-2.80"> (mm)</tspan></text>
<text transform="translate(524.70 87.60) scale(1.037 1)" x="-19.58" y="2.70"><tspan font-size="10.50" font-weight="bold" font-style="italic">w</tspan><tspan font-size="7.60" dy="2.80">fb</tspan><tspan font-size="10.00" font-weight="bold" dy="-2.80"> (mm)</tspan></text>
<text transform="translate(104.50 115.60) scale(0.986 1)" x="-5.83" y="2.70"><tspan font-size="10.00" font-weight="bold">(a)</tspan></text>
<text transform="translate(294.00 111.00) scale(0.941 1)" x="-6.11" y="2.70"><tspan font-size="10.00" font-weight="bold">(b)</tspan></text>
<text transform="translate(481.50 111.00) scale(1.036 1)" x="-5.55" y="2.70"><tspan font-size="10.00" font-weight="bold">(c)</tspan></text>
<text transform="translate(32.20 141.00) scale(1.003 1)" x="-7.17" y="2.77"><tspan font-size="8.20" font-weight="bold">30.0</tspan></text>
<text transform="translate(207.40 141.00) scale(1.003 1)" x="-7.17" y="2.77"><tspan font-size="8.20" font-weight="bold">30.0</tspan></text>
<text transform="translate(32.20 162.60) scale(1.003 1)" x="-7.17" y="2.77"><tspan font-size="8.20" font-weight="bold">27.5</tspan></text>
<text transform="translate(207.40 162.60) scale(1.003 1)" x="-7.17" y="2.77"><tspan font-size="8.20" font-weight="bold">27.5</tspan></text>
<text transform="translate(32.20 184.40) scale(1.003 1)" x="-7.17" y="2.77"><tspan font-size="8.20" font-weight="bold">25.0</tspan></text>
<text transform="translate(207.40 184.40) scale(1.003 1)" x="-7.17" y="2.77"><tspan font-size="8.20" font-weight="bold">25.0</tspan></text>
<text transform="translate(32.20 206.00) scale(1.003 1)" x="-7.17" y="2.77"><tspan font-size="8.20" font-weight="bold">22.5</tspan></text>
<text transform="translate(207.40 206.00) scale(1.003 1)" x="-7.17" y="2.77"><tspan font-size="8.20" font-weight="bold">22.5</tspan></text>
<text transform="translate(32.20 228.20) scale(1.003 1)" x="-7.17" y="2.77"><tspan font-size="8.20" font-weight="bold">20.0</tspan></text>
<text transform="translate(207.40 228.20) scale(1.003 1)" x="-7.17" y="2.77"><tspan font-size="8.20" font-weight="bold">20.0</tspan></text>
<text transform="translate(48.60 244.20) scale(1.050 1)" x="-2.00" y="2.70"><tspan font-size="8.00" font-weight="bold">1</tspan></text>
<text transform="translate(73.40 244.20) scale(1.050 1)" x="-2.00" y="2.70"><tspan font-size="8.00" font-weight="bold">2</tspan></text>
<text transform="translate(98.00 244.20) scale(1.050 1)" x="-2.00" y="2.70"><tspan font-size="8.00" font-weight="bold">3</tspan></text>
<text transform="translate(123.00 244.20) scale(1.050 1)" x="-2.00" y="2.70"><tspan font-size="8.00" font-weight="bold">4</tspan></text>
<text transform="translate(147.60 244.20) scale(1.050 1)" x="-2.00" y="2.70"><tspan font-size="8.00" font-weight="bold">5</tspan></text>
<text transform="translate(219.20 243.90) scale(0.986 1)" x="-7.00" y="2.70"><tspan font-size="8.00" font-weight="bold">10.0</tspan></text>
<text transform="translate(245.00 243.90) scale(0.986 1)" x="-7.00" y="2.70"><tspan font-size="8.00" font-weight="bold">12.5</tspan></text>
<text transform="translate(270.80 243.90) scale(0.986 1)" x="-7.00" y="2.70"><tspan font-size="8.00" font-weight="bold">15.0</tspan></text>
<text transform="translate(296.60 243.90) scale(0.986 1)" x="-7.00" y="2.70"><tspan font-size="8.00" font-weight="bold">17.5</tspan></text>
<text transform="translate(322.40 243.90) scale(0.986 1)" x="-7.00" y="2.70"><tspan font-size="8.00" font-weight="bold">20.0</tspan></text>
<text transform="translate(383.00 249.20) scale(0.986 1)" x="-7.00" y="2.70"><tspan font-size="8.00" font-weight="bold">10.0</tspan></text>
<text transform="translate(409.00 249.20) scale(0.986 1)" x="-7.00" y="2.70"><tspan font-size="8.00" font-weight="bold">12.5</tspan></text>
<text transform="translate(435.00 249.20) scale(0.986 1)" x="-7.00" y="2.70"><tspan font-size="8.00" font-weight="bold">15.0</tspan></text>
<text transform="translate(461.00 249.20) scale(0.986 1)" x="-7.00" y="2.70"><tspan font-size="8.00" font-weight="bold">17.5</tspan></text>
<text transform="translate(487.00 249.20) scale(0.986 1)" x="-7.00" y="2.70"><tspan font-size="8.00" font-weight="bold">20.0</tspan></text>
<text transform="translate(377.90 138.00) scale(1.024 1)" x="-2.05" y="2.77"><tspan font-size="8.20" font-weight="bold">5</tspan></text>
<text transform="translate(377.90 162.60) scale(1.024 1)" x="-2.05" y="2.77"><tspan font-size="8.20" font-weight="bold">4</tspan></text>
<text transform="translate(377.90 187.60) scale(1.024 1)" x="-2.05" y="2.77"><tspan font-size="8.20" font-weight="bold">3</tspan></text>
<text transform="translate(377.90 212.40) scale(1.024 1)" x="-2.05" y="2.77"><tspan font-size="8.20" font-weight="bold">2</tspan></text>
<text transform="translate(377.90 237.30) scale(1.024 1)" x="-2.05" y="2.77"><tspan font-size="8.20" font-weight="bold">1</tspan></text>
<text transform="translate(99.00 254.00) scale(1.117 1)" x="-18.80" y="2.59"><tspan font-size="10.08" font-weight="bold" font-style="italic">w</tspan><tspan font-size="7.30" dy="2.80">fb</tspan><tspan font-size="9.60" font-weight="bold" dy="-2.80"> (mm)</tspan></text>
<text transform="translate(271.60 255.00) scale(1.013 1)" x="-18.16" y="2.59"><tspan font-size="9.79" font-weight="bold" font-style="italic">h</tspan><tspan font-size="7.30" dy="2.80">fb</tspan><tspan font-size="9.60" font-weight="bold" dy="-2.80"> (mm)</tspan></text>
<text transform="translate(434.30 260.00) scale(1.013 1)" x="-18.16" y="2.59"><tspan font-size="9.79" font-weight="bold" font-style="italic">h</tspan><tspan font-size="7.30" dy="2.80">fb</tspan><tspan font-size="9.60" font-weight="bold" dy="-2.80"> (mm)</tspan></text>
<text transform="translate(17.00 185.80) rotate(-90) scale(1.061 1)" x="-17.35" y="2.59"><tspan font-size="11.04" font-style="italic">θ</tspan><tspan font-size="7.30" dy="2.80">fb</tspan><tspan font-size="9.60" font-weight="bold" dy="-2.80"> (deg)</tspan></text>
<text transform="translate(191.40 185.80) rotate(-90) scale(1.061 1)" x="-17.35" y="2.59"><tspan font-size="11.04" font-style="italic">θ</tspan><tspan font-size="7.30" dy="2.80">fb</tspan><tspan font-size="9.60" font-weight="bold" dy="-2.80"> (deg)</tspan></text>
<text transform="translate(365.40 185.30) rotate(-90) scale(1.059 1)" x="-18.80" y="2.59"><tspan font-size="10.08" font-weight="bold" font-style="italic">w</tspan><tspan font-size="7.30" dy="2.80">fb</tspan><tspan font-size="9.60" font-weight="bold" dy="-2.80"> (mm)</tspan></text>
<text transform="translate(97.70 269.80) scale(1.031 1)" x="-6.11" y="2.70"><tspan font-size="10.00" font-weight="bold">(d)</tspan></text>
<text transform="translate(272.40 269.30) scale(1.135 1)" x="-5.55" y="2.70"><tspan font-size="10.00" font-weight="bold">(e)</tspan></text>
<text transform="translate(433.40 272.00) scale(1.061 1)" x="-5.00" y="2.70"><tspan font-size="10.00" font-weight="bold">(f)</tspan></text>
<text transform="translate(520.80 124.40) scale(1.088 1)" x="-20.41" y="2.11"><tspan font-size="7.80">Torque (Nm)</tspan></text>
<text transform="translate(532.70 138.00) scale(1.027 1)" x="-5.55" y="2.50"><tspan font-size="7.40">450</tspan></text>
<text transform="translate(532.70 190.20) scale(1.027 1)" x="-5.55" y="2.50"><tspan font-size="7.40">430</tspan></text>
<text transform="translate(532.70 252.80) scale(1.027 1)" x="-5.55" y="2.50"><tspan font-size="7.40">410</tspan></text>
</g>
</svg>
</body></html>
